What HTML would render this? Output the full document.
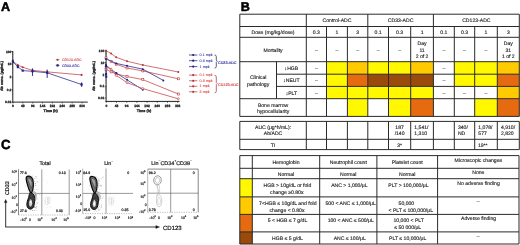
<!DOCTYPE html>
<html><head><meta charset="utf-8"><title>Figure</title>
<style>html,body{margin:0;padding:0;background:#fff;} svg{display:block;} text{font-family:"Liberation Sans", Arial, sans-serif;text-rendering:geometricPrecision;}</style>
</head><body>
<svg width="520" height="245" viewBox="0 0 520 245" font-family='"Liberation Sans", Arial, sans-serif'>
<rect x="0" y="0" width="520" height="245" fill="#fff"/>
<text x="0.90" y="10.90" font-size="12.6" text-anchor="start" fill="#000" font-weight="bold" stroke="#000" stroke-width="0.5" >A</text>
<text x="240.70" y="10.90" font-size="12.6" text-anchor="start" fill="#000" font-weight="bold" stroke="#000" stroke-width="0.5" >B</text>
<text x="0.90" y="148.80" font-size="13.2" text-anchor="start" fill="#000" font-weight="bold" stroke="#000" stroke-width="0.5" >C</text>
<rect x="326.50" y="61.70" width="20.90" height="12.50" fill="#FFF800"/>
<rect x="347.40" y="61.70" width="20.40" height="12.50" fill="#FFCA00"/>
<rect x="367.80" y="61.70" width="20.70" height="12.50" fill="#FFF800"/>
<rect x="388.50" y="61.70" width="22.20" height="12.50" fill="#FFF800"/>
<rect x="410.70" y="61.70" width="22.70" height="12.50" fill="#FFCA00"/>
<rect x="454.30" y="61.70" width="20.40" height="12.50" fill="#FFF800"/>
<rect x="474.70" y="61.70" width="22.60" height="12.50" fill="#FFF800"/>
<rect x="497.30" y="61.70" width="22.00" height="12.50" fill="#FFCA00"/>
<rect x="326.50" y="74.20" width="20.90" height="12.20" fill="#FFF800"/>
<rect x="347.40" y="74.20" width="20.40" height="12.20" fill="#E56A10"/>
<rect x="367.80" y="74.20" width="20.70" height="12.20" fill="#9A4A0A"/>
<rect x="388.50" y="74.20" width="22.20" height="12.20" fill="#9A4A0A"/>
<rect x="410.70" y="74.20" width="22.70" height="12.20" fill="#9A4A0A"/>
<rect x="454.30" y="74.20" width="20.40" height="12.20" fill="#FFF800"/>
<rect x="474.70" y="74.20" width="22.60" height="12.20" fill="#FFF800"/>
<rect x="497.30" y="74.20" width="22.00" height="12.20" fill="#E56A10"/>
<rect x="326.50" y="86.40" width="20.90" height="12.30" fill="#FFF800"/>
<rect x="347.40" y="86.40" width="20.40" height="12.30" fill="#FFF800"/>
<rect x="367.80" y="86.40" width="20.70" height="12.30" fill="#FFF800"/>
<rect x="388.50" y="86.40" width="22.20" height="12.30" fill="#FFF800"/>
<rect x="410.70" y="86.40" width="22.70" height="12.30" fill="#FFF800"/>
<rect x="497.30" y="86.40" width="22.00" height="12.30" fill="#FFCA00"/>
<rect x="347.40" y="98.70" width="20.40" height="17.70" fill="#FFF800"/>
<rect x="388.50" y="98.70" width="22.20" height="17.70" fill="#FFF800"/>
<rect x="410.70" y="98.70" width="22.70" height="17.70" fill="#E56A10"/>
<rect x="474.70" y="98.70" width="22.60" height="17.70" fill="#FFF800"/>
<rect x="497.30" y="98.70" width="22.00" height="17.70" fill="#E56A10"/>
<line x1="239.80" y1="14.20" x2="519.30" y2="14.20" stroke="#2a2a2a" stroke-width="1" />
<line x1="239.80" y1="26.50" x2="519.30" y2="26.50" stroke="#2a2a2a" stroke-width="1" />
<line x1="239.80" y1="37.30" x2="519.30" y2="37.30" stroke="#2a2a2a" stroke-width="1" />
<line x1="239.80" y1="61.70" x2="519.30" y2="61.70" stroke="#2a2a2a" stroke-width="1" />
<line x1="276.50" y1="74.20" x2="519.30" y2="74.20" stroke="#2a2a2a" stroke-width="1" />
<line x1="276.50" y1="86.40" x2="519.30" y2="86.40" stroke="#2a2a2a" stroke-width="1" />
<line x1="239.80" y1="98.70" x2="519.30" y2="98.70" stroke="#2a2a2a" stroke-width="1" />
<line x1="239.80" y1="116.40" x2="519.30" y2="116.40" stroke="#2a2a2a" stroke-width="1" />
<line x1="239.80" y1="14.20" x2="239.80" y2="116.40" stroke="#2a2a2a" stroke-width="1" />
<line x1="306.30" y1="14.20" x2="306.30" y2="116.40" stroke="#2a2a2a" stroke-width="1" />
<line x1="326.50" y1="26.50" x2="326.50" y2="116.40" stroke="#2a2a2a" stroke-width="1" />
<line x1="347.40" y1="26.50" x2="347.40" y2="116.40" stroke="#2a2a2a" stroke-width="1" />
<line x1="367.80" y1="14.20" x2="367.80" y2="116.40" stroke="#2a2a2a" stroke-width="1" />
<line x1="388.50" y1="26.50" x2="388.50" y2="116.40" stroke="#2a2a2a" stroke-width="1" />
<line x1="410.70" y1="26.50" x2="410.70" y2="116.40" stroke="#2a2a2a" stroke-width="1" />
<line x1="433.40" y1="14.20" x2="433.40" y2="116.40" stroke="#2a2a2a" stroke-width="1" />
<line x1="454.30" y1="26.50" x2="454.30" y2="116.40" stroke="#2a2a2a" stroke-width="1" />
<line x1="474.70" y1="26.50" x2="474.70" y2="116.40" stroke="#2a2a2a" stroke-width="1" />
<line x1="497.30" y1="26.50" x2="497.30" y2="116.40" stroke="#2a2a2a" stroke-width="1" />
<line x1="519.30" y1="14.20" x2="519.30" y2="116.40" stroke="#2a2a2a" stroke-width="1" />
<line x1="276.50" y1="61.70" x2="276.50" y2="98.70" stroke="#2a2a2a" stroke-width="1" />
<text x="337.05" y="21.74" font-size="5.1" text-anchor="middle" fill="#222" font-weight="normal" stroke="#222" stroke-width="0.13" >Control-ADC</text>
<text x="400.60" y="21.74" font-size="5.1" text-anchor="middle" fill="#222" font-weight="normal" stroke="#222" stroke-width="0.13" >CD33-ADC</text>
<text x="476.35" y="21.74" font-size="5.1" text-anchor="middle" fill="#222" font-weight="normal" stroke="#222" stroke-width="0.13" >CD123-ADC</text>
<text x="273.05" y="33.84" font-size="5.1" text-anchor="middle" fill="#222" font-weight="normal" stroke="#222" stroke-width="0.13" >Dose (mg/kg/dose)</text>
<text x="316.40" y="33.84" font-size="5.1" text-anchor="middle" fill="#222" font-weight="normal" stroke="#222" stroke-width="0.13" >0.3</text>
<text x="336.95" y="33.84" font-size="5.1" text-anchor="middle" fill="#222" font-weight="normal" stroke="#222" stroke-width="0.13" >1</text>
<text x="357.60" y="33.84" font-size="5.1" text-anchor="middle" fill="#222" font-weight="normal" stroke="#222" stroke-width="0.13" >3</text>
<text x="378.15" y="33.84" font-size="5.1" text-anchor="middle" fill="#222" font-weight="normal" stroke="#222" stroke-width="0.13" >0.1</text>
<text x="399.60" y="33.84" font-size="5.1" text-anchor="middle" fill="#222" font-weight="normal" stroke="#222" stroke-width="0.13" >0.3</text>
<text x="422.05" y="33.84" font-size="5.1" text-anchor="middle" fill="#222" font-weight="normal" stroke="#222" stroke-width="0.13" >1</text>
<text x="443.85" y="33.84" font-size="5.1" text-anchor="middle" fill="#222" font-weight="normal" stroke="#222" stroke-width="0.13" >0.1</text>
<text x="464.50" y="33.84" font-size="5.1" text-anchor="middle" fill="#222" font-weight="normal" stroke="#222" stroke-width="0.13" >0.3</text>
<text x="486.00" y="33.84" font-size="5.1" text-anchor="middle" fill="#222" font-weight="normal" stroke="#222" stroke-width="0.13" >1</text>
<text x="508.30" y="33.84" font-size="5.1" text-anchor="middle" fill="#222" font-weight="normal" stroke="#222" stroke-width="0.13" >3</text>
<text x="273.05" y="51.73" font-size="5.1" text-anchor="middle" fill="#222" font-weight="normal" stroke="#222" stroke-width="0.13" >Mortality</text>
<text x="316.40" y="51.57" font-size="5.2" text-anchor="middle" fill="#666" font-weight="normal" stroke="#666" stroke-width="0.13" >–</text>
<text x="336.95" y="51.57" font-size="5.2" text-anchor="middle" fill="#666" font-weight="normal" stroke="#666" stroke-width="0.13" >–</text>
<text x="357.60" y="51.57" font-size="5.2" text-anchor="middle" fill="#666" font-weight="normal" stroke="#666" stroke-width="0.13" >–</text>
<text x="378.15" y="51.57" font-size="5.2" text-anchor="middle" fill="#666" font-weight="normal" stroke="#666" stroke-width="0.13" >–</text>
<text x="399.60" y="51.57" font-size="5.2" text-anchor="middle" fill="#666" font-weight="normal" stroke="#666" stroke-width="0.13" >–</text>
<text x="443.85" y="51.57" font-size="5.2" text-anchor="middle" fill="#666" font-weight="normal" stroke="#666" stroke-width="0.13" >–</text>
<text x="464.50" y="51.57" font-size="5.2" text-anchor="middle" fill="#666" font-weight="normal" stroke="#666" stroke-width="0.13" >–</text>
<text x="486.00" y="51.57" font-size="5.2" text-anchor="middle" fill="#666" font-weight="normal" stroke="#666" stroke-width="0.13" >–</text>
<text x="422.05" y="45.23" font-size="5.1" text-anchor="middle" fill="#222" font-weight="normal" stroke="#222" stroke-width="0.13" >Day</text>
<text x="422.05" y="51.84" font-size="5.1" text-anchor="middle" fill="#222" font-weight="normal" stroke="#222" stroke-width="0.13" >11</text>
<text x="422.05" y="58.43" font-size="5.1" text-anchor="middle" fill="#222" font-weight="normal" stroke="#222" stroke-width="0.13" >2 of 2</text>
<text x="508.30" y="45.23" font-size="5.1" text-anchor="middle" fill="#222" font-weight="normal" stroke="#222" stroke-width="0.13" >Day</text>
<text x="508.30" y="51.84" font-size="5.1" text-anchor="middle" fill="#222" font-weight="normal" stroke="#222" stroke-width="0.13" >31</text>
<text x="508.30" y="58.43" font-size="5.1" text-anchor="middle" fill="#222" font-weight="normal" stroke="#222" stroke-width="0.13" >1 of 2</text>
<text x="258.15" y="79.33" font-size="5.1" text-anchor="middle" fill="#222" font-weight="normal" stroke="#222" stroke-width="0.13" >Clinical</text>
<text x="258.15" y="86.13" font-size="5.1" text-anchor="middle" fill="#222" font-weight="normal" stroke="#222" stroke-width="0.13" >pathology</text>
<text x="291.40" y="70.13" font-size="5.1" text-anchor="middle" fill="#222" font-weight="normal" stroke="#222" stroke-width="0.13" >↓HGB</text>
<text x="291.40" y="82.43" font-size="5.1" text-anchor="middle" fill="#222" font-weight="normal" stroke="#222" stroke-width="0.13" >↓NEUT</text>
<text x="291.40" y="94.53" font-size="5.1" text-anchor="middle" fill="#222" font-weight="normal" stroke="#222" stroke-width="0.13" >↓PLT</text>
<text x="316.40" y="69.92" font-size="5.2" text-anchor="middle" fill="#666" font-weight="normal" stroke="#666" stroke-width="0.13" >–</text>
<text x="443.85" y="69.92" font-size="5.2" text-anchor="middle" fill="#666" font-weight="normal" stroke="#666" stroke-width="0.13" >–</text>
<text x="316.40" y="82.27" font-size="5.2" text-anchor="middle" fill="#666" font-weight="normal" stroke="#666" stroke-width="0.13" >–</text>
<text x="443.85" y="82.27" font-size="5.2" text-anchor="middle" fill="#666" font-weight="normal" stroke="#666" stroke-width="0.13" >–</text>
<text x="316.40" y="94.52" font-size="5.2" text-anchor="middle" fill="#666" font-weight="normal" stroke="#666" stroke-width="0.13" >–</text>
<text x="443.85" y="94.52" font-size="5.2" text-anchor="middle" fill="#666" font-weight="normal" stroke="#666" stroke-width="0.13" >–</text>
<text x="464.50" y="94.52" font-size="5.2" text-anchor="middle" fill="#666" font-weight="normal" stroke="#666" stroke-width="0.13" >–</text>
<text x="486.00" y="94.52" font-size="5.2" text-anchor="middle" fill="#666" font-weight="normal" stroke="#666" stroke-width="0.13" >–</text>
<text x="273.05" y="106.53" font-size="5.1" text-anchor="middle" fill="#222" font-weight="normal" stroke="#222" stroke-width="0.13" >Bone marrow</text>
<text x="273.05" y="113.33" font-size="5.1" text-anchor="middle" fill="#222" font-weight="normal" stroke="#222" stroke-width="0.13" >hypocellularity</text>
<line x1="239.80" y1="121.40" x2="519.30" y2="121.40" stroke="#2a2a2a" stroke-width="1" />
<line x1="239.80" y1="139.30" x2="519.30" y2="139.30" stroke="#2a2a2a" stroke-width="1" />
<line x1="239.80" y1="149.60" x2="519.30" y2="149.60" stroke="#2a2a2a" stroke-width="1" />
<line x1="239.80" y1="121.40" x2="239.80" y2="149.60" stroke="#2a2a2a" stroke-width="1" />
<line x1="306.30" y1="121.40" x2="306.30" y2="149.60" stroke="#2a2a2a" stroke-width="1" />
<line x1="326.50" y1="121.40" x2="326.50" y2="149.60" stroke="#2a2a2a" stroke-width="1" />
<line x1="347.40" y1="121.40" x2="347.40" y2="149.60" stroke="#2a2a2a" stroke-width="1" />
<line x1="367.80" y1="121.40" x2="367.80" y2="149.60" stroke="#2a2a2a" stroke-width="1" />
<line x1="388.50" y1="121.40" x2="388.50" y2="149.60" stroke="#2a2a2a" stroke-width="1" />
<line x1="410.70" y1="121.40" x2="410.70" y2="149.60" stroke="#2a2a2a" stroke-width="1" />
<line x1="433.40" y1="121.40" x2="433.40" y2="149.60" stroke="#2a2a2a" stroke-width="1" />
<line x1="454.30" y1="121.40" x2="454.30" y2="149.60" stroke="#2a2a2a" stroke-width="1" />
<line x1="474.70" y1="121.40" x2="474.70" y2="149.60" stroke="#2a2a2a" stroke-width="1" />
<line x1="497.30" y1="121.40" x2="497.30" y2="149.60" stroke="#2a2a2a" stroke-width="1" />
<line x1="519.30" y1="121.40" x2="519.30" y2="149.60" stroke="#2a2a2a" stroke-width="1" />
<text x="273.05" y="129.44" font-size="5.1" text-anchor="middle" fill="#222" font-weight="normal" stroke="#222" stroke-width="0.13" >AUC (μg*h/mL):</text>
<text x="273.05" y="135.44" font-size="5.1" text-anchor="middle" fill="#222" font-weight="normal" stroke="#222" stroke-width="0.13" >Ab/ADC</text>
<text x="273.05" y="146.73" font-size="5.1" text-anchor="middle" fill="#222" font-weight="normal" stroke="#222" stroke-width="0.13" >TI</text>
<text x="399.60" y="129.34" font-size="5.1" text-anchor="middle" fill="#222" font-weight="normal" stroke="#222" stroke-width="0.13" >187</text>
<text x="399.60" y="135.33" font-size="5.1" text-anchor="middle" fill="#222" font-weight="normal" stroke="#222" stroke-width="0.13" >/140</text>
<text x="414.30" y="129.34" font-size="5.1" text-anchor="start" fill="#222" font-weight="normal" stroke="#222" stroke-width="0.13" >1,541/</text>
<text x="414.30" y="135.33" font-size="5.1" text-anchor="start" fill="#222" font-weight="normal" stroke="#222" stroke-width="0.13" >1,310</text>
<text x="457.90" y="129.34" font-size="5.1" text-anchor="start" fill="#222" font-weight="normal" stroke="#222" stroke-width="0.13" >340/</text>
<text x="457.90" y="135.33" font-size="5.1" text-anchor="start" fill="#222" font-weight="normal" stroke="#222" stroke-width="0.13" >ND</text>
<text x="478.30" y="129.34" font-size="5.1" text-anchor="start" fill="#222" font-weight="normal" stroke="#222" stroke-width="0.13" >1,078/</text>
<text x="478.30" y="135.33" font-size="5.1" text-anchor="start" fill="#222" font-weight="normal" stroke="#222" stroke-width="0.13" >577</text>
<text x="500.90" y="129.34" font-size="5.1" text-anchor="start" fill="#222" font-weight="normal" stroke="#222" stroke-width="0.13" >4,910/</text>
<text x="500.90" y="135.33" font-size="5.1" text-anchor="start" fill="#222" font-weight="normal" stroke="#222" stroke-width="0.13" >2,820</text>
<text x="399.60" y="146.53" font-size="5.1" text-anchor="middle" fill="#222" font-weight="normal" stroke="#222" stroke-width="0.13" >3*</text>
<text x="477.90" y="146.53" font-size="5.1" text-anchor="start" fill="#222" font-weight="normal" stroke="#222" stroke-width="0.13" >19**</text>
<rect x="239.80" y="178.70" width="12.50" height="18.20" fill="#FFF800"/>
<rect x="239.80" y="196.90" width="12.50" height="17.50" fill="#FFCA00"/>
<rect x="239.80" y="214.40" width="12.50" height="17.50" fill="#E56A10"/>
<rect x="239.80" y="231.90" width="12.50" height="12.10" fill="#9A4A0A"/>
<line x1="239.80" y1="155.60" x2="519.00" y2="155.60" stroke="#2a2a2a" stroke-width="1" />
<line x1="239.80" y1="168.30" x2="519.00" y2="168.30" stroke="#2a2a2a" stroke-width="1" />
<line x1="239.80" y1="178.70" x2="519.00" y2="178.70" stroke="#2a2a2a" stroke-width="1" />
<line x1="239.80" y1="196.90" x2="519.00" y2="196.90" stroke="#2a2a2a" stroke-width="1" />
<line x1="239.80" y1="214.40" x2="519.00" y2="214.40" stroke="#2a2a2a" stroke-width="1" />
<line x1="239.80" y1="231.90" x2="519.00" y2="231.90" stroke="#2a2a2a" stroke-width="1" />
<line x1="239.80" y1="244.00" x2="519.00" y2="244.00" stroke="#2a2a2a" stroke-width="1" />
<line x1="239.80" y1="155.60" x2="239.80" y2="244.00" stroke="#2a2a2a" stroke-width="1" />
<line x1="252.30" y1="155.60" x2="252.30" y2="244.00" stroke="#2a2a2a" stroke-width="1" />
<line x1="319.70" y1="155.60" x2="319.70" y2="244.00" stroke="#2a2a2a" stroke-width="1" />
<line x1="376.90" y1="155.60" x2="376.90" y2="244.00" stroke="#2a2a2a" stroke-width="1" />
<line x1="437.60" y1="155.60" x2="437.60" y2="244.00" stroke="#2a2a2a" stroke-width="1" />
<line x1="519.00" y1="155.60" x2="519.00" y2="244.00" stroke="#2a2a2a" stroke-width="1" />
<text x="286.00" y="164.03" font-size="5.1" text-anchor="middle" fill="#222" font-weight="normal" stroke="#222" stroke-width="0.13" >Hemoglobin</text>
<text x="348.30" y="164.03" font-size="5.1" text-anchor="middle" fill="#222" font-weight="normal" stroke="#222" stroke-width="0.13" >Neutrophil count</text>
<text x="407.25" y="164.03" font-size="5.1" text-anchor="middle" fill="#222" font-weight="normal" stroke="#222" stroke-width="0.13" >Platelet count</text>
<text x="478.30" y="162.03" font-size="5.1" text-anchor="middle" fill="#222" font-weight="normal" stroke="#222" stroke-width="0.13" >Microscopic changes</text>
<text x="286.00" y="175.94" font-size="5.1" text-anchor="middle" fill="#222" font-weight="normal" stroke="#222" stroke-width="0.13" >Normal</text>
<text x="348.30" y="175.94" font-size="5.1" text-anchor="middle" fill="#222" font-weight="normal" stroke="#222" stroke-width="0.13" >Normal</text>
<text x="407.25" y="175.94" font-size="5.1" text-anchor="middle" fill="#222" font-weight="normal" stroke="#222" stroke-width="0.13" >Normal</text>
<text x="478.30" y="173.83" font-size="5.1" text-anchor="middle" fill="#222" font-weight="normal" stroke="#222" stroke-width="0.13" >None</text>
<text x="287.40" y="186.53" font-size="5.1" text-anchor="middle" fill="#222" font-weight="normal" stroke="#222" stroke-width="0.13" >HGB &gt; 10g/dL or fold</text>
<text x="286.80" y="194.33" font-size="5.1" text-anchor="middle" fill="#222" font-weight="normal" stroke="#222" stroke-width="0.13" >change ≥0.80x</text>
<text x="349.40" y="186.53" font-size="5.1" text-anchor="middle" fill="#222" font-weight="normal" stroke="#222" stroke-width="0.13" >ANC &gt; 1,000/μL</text>
<text x="408.50" y="186.53" font-size="5.1" text-anchor="middle" fill="#222" font-weight="normal" stroke="#222" stroke-width="0.13" >PLT &gt; 100,000/μL</text>
<text x="478.50" y="184.94" font-size="5.1" text-anchor="middle" fill="#222" font-weight="normal" stroke="#222" stroke-width="0.13" >No adverse finding</text>
<text x="287.80" y="204.94" font-size="5.1" text-anchor="middle" fill="#222" font-weight="normal" stroke="#222" stroke-width="0.13" >7&lt;HGB ≤ 10g/dL and fold</text>
<text x="287.00" y="211.83" font-size="5.1" text-anchor="middle" fill="#222" font-weight="normal" stroke="#222" stroke-width="0.13" >change &lt; 0.80x</text>
<text x="350.70" y="204.94" font-size="5.1" text-anchor="middle" fill="#222" font-weight="normal" stroke="#222" stroke-width="0.13" >500 &lt; ANC ≤ 1,000/μL</text>
<text x="406.40" y="204.94" font-size="5.1" text-anchor="middle" fill="#222" font-weight="normal" stroke="#222" stroke-width="0.13" >50,000</text>
<text x="410.80" y="211.83" font-size="5.1" text-anchor="middle" fill="#222" font-weight="normal" stroke="#222" stroke-width="0.13" >&lt; PLT ≤ 100,000/μL</text>
<text x="478.30" y="202.77" font-size="5.2" text-anchor="middle" fill="#666" font-weight="normal" stroke="#666" stroke-width="0.13" >–</text>
<text x="287.50" y="222.44" font-size="5.1" text-anchor="middle" fill="#222" font-weight="normal" stroke="#222" stroke-width="0.13" >5 &lt; HGB ≤ 7 g/dL</text>
<text x="350.70" y="222.44" font-size="5.1" text-anchor="middle" fill="#222" font-weight="normal" stroke="#222" stroke-width="0.13" >100 &lt; ANC ≤ 500/μL</text>
<text x="408.70" y="222.44" font-size="5.1" text-anchor="middle" fill="#222" font-weight="normal" stroke="#222" stroke-width="0.13" >10,000 &lt; PLT</text>
<text x="407.70" y="228.73" font-size="5.1" text-anchor="middle" fill="#222" font-weight="normal" stroke="#222" stroke-width="0.13" >≤ 50 000/μL</text>
<text x="478.60" y="220.13" font-size="5.1" text-anchor="middle" fill="#222" font-weight="normal" stroke="#222" stroke-width="0.13" >Adverse finding</text>
<text x="287.50" y="240.03" font-size="5.1" text-anchor="middle" fill="#222" font-weight="normal" stroke="#222" stroke-width="0.13" >HGB ≤ 5 g/dL</text>
<text x="349.70" y="240.03" font-size="5.1" text-anchor="middle" fill="#222" font-weight="normal" stroke="#222" stroke-width="0.13" >ANC ≤ 100/μL</text>
<text x="407.70" y="240.03" font-size="5.1" text-anchor="middle" fill="#222" font-weight="normal" stroke="#222" stroke-width="0.13" >PLT ≤ 10,000/μL</text>
<text x="478.20" y="237.97" font-size="5.2" text-anchor="middle" fill="#666" font-weight="normal" stroke="#666" stroke-width="0.13" >–</text>
<line x1="12.80" y1="51.00" x2="12.80" y2="102.70" stroke="#1a1a1a" stroke-width="0.95" />
<line x1="12.40" y1="102.10" x2="87.80" y2="102.10" stroke="#1a1a1a" stroke-width="0.95" />
<line x1="11.40" y1="51.40" x2="12.80" y2="51.40" stroke="#1a1a1a" stroke-width="0.7" />
<text x="11.30" y="52.55" font-size="3.2" text-anchor="end" fill="#1a1a1a" font-weight="bold" stroke="#1a1a1a" stroke-width="0.28" >100</text>
<line x1="12.10" y1="60.26" x2="12.80" y2="60.26" stroke="#1a1a1a" stroke-width="0.35" />
<line x1="12.10" y1="58.03" x2="12.80" y2="58.03" stroke="#1a1a1a" stroke-width="0.35" />
<line x1="12.10" y1="56.45" x2="12.80" y2="56.45" stroke="#1a1a1a" stroke-width="0.35" />
<line x1="12.10" y1="55.22" x2="12.80" y2="55.22" stroke="#1a1a1a" stroke-width="0.35" />
<line x1="12.10" y1="54.21" x2="12.80" y2="54.21" stroke="#1a1a1a" stroke-width="0.35" />
<line x1="12.10" y1="53.36" x2="12.80" y2="53.36" stroke="#1a1a1a" stroke-width="0.35" />
<line x1="12.10" y1="52.63" x2="12.80" y2="52.63" stroke="#1a1a1a" stroke-width="0.35" />
<line x1="12.10" y1="51.98" x2="12.80" y2="51.98" stroke="#1a1a1a" stroke-width="0.35" />
<line x1="11.40" y1="64.08" x2="12.80" y2="64.08" stroke="#1a1a1a" stroke-width="0.7" />
<text x="11.30" y="65.23" font-size="3.2" text-anchor="end" fill="#1a1a1a" font-weight="bold" stroke="#1a1a1a" stroke-width="0.28" >10</text>
<line x1="12.10" y1="72.94" x2="12.80" y2="72.94" stroke="#1a1a1a" stroke-width="0.35" />
<line x1="12.10" y1="70.71" x2="12.80" y2="70.71" stroke="#1a1a1a" stroke-width="0.35" />
<line x1="12.10" y1="69.13" x2="12.80" y2="69.13" stroke="#1a1a1a" stroke-width="0.35" />
<line x1="12.10" y1="67.90" x2="12.80" y2="67.90" stroke="#1a1a1a" stroke-width="0.35" />
<line x1="12.10" y1="66.89" x2="12.80" y2="66.89" stroke="#1a1a1a" stroke-width="0.35" />
<line x1="12.10" y1="66.04" x2="12.80" y2="66.04" stroke="#1a1a1a" stroke-width="0.35" />
<line x1="12.10" y1="65.31" x2="12.80" y2="65.31" stroke="#1a1a1a" stroke-width="0.35" />
<line x1="12.10" y1="64.66" x2="12.80" y2="64.66" stroke="#1a1a1a" stroke-width="0.35" />
<line x1="11.40" y1="76.76" x2="12.80" y2="76.76" stroke="#1a1a1a" stroke-width="0.7" />
<text x="11.30" y="77.91" font-size="3.2" text-anchor="end" fill="#1a1a1a" font-weight="bold" stroke="#1a1a1a" stroke-width="0.28" >1</text>
<line x1="12.10" y1="85.62" x2="12.80" y2="85.62" stroke="#1a1a1a" stroke-width="0.35" />
<line x1="12.10" y1="83.39" x2="12.80" y2="83.39" stroke="#1a1a1a" stroke-width="0.35" />
<line x1="12.10" y1="81.81" x2="12.80" y2="81.81" stroke="#1a1a1a" stroke-width="0.35" />
<line x1="12.10" y1="80.58" x2="12.80" y2="80.58" stroke="#1a1a1a" stroke-width="0.35" />
<line x1="12.10" y1="79.57" x2="12.80" y2="79.57" stroke="#1a1a1a" stroke-width="0.35" />
<line x1="12.10" y1="78.72" x2="12.80" y2="78.72" stroke="#1a1a1a" stroke-width="0.35" />
<line x1="12.10" y1="77.99" x2="12.80" y2="77.99" stroke="#1a1a1a" stroke-width="0.35" />
<line x1="12.10" y1="77.34" x2="12.80" y2="77.34" stroke="#1a1a1a" stroke-width="0.35" />
<line x1="11.40" y1="89.44" x2="12.80" y2="89.44" stroke="#1a1a1a" stroke-width="0.7" />
<text x="11.30" y="90.59" font-size="3.2" text-anchor="end" fill="#1a1a1a" font-weight="bold" stroke="#1a1a1a" stroke-width="0.28" >0.1</text>
<line x1="12.10" y1="98.30" x2="12.80" y2="98.30" stroke="#1a1a1a" stroke-width="0.35" />
<line x1="12.10" y1="96.07" x2="12.80" y2="96.07" stroke="#1a1a1a" stroke-width="0.35" />
<line x1="12.10" y1="94.49" x2="12.80" y2="94.49" stroke="#1a1a1a" stroke-width="0.35" />
<line x1="12.10" y1="93.26" x2="12.80" y2="93.26" stroke="#1a1a1a" stroke-width="0.35" />
<line x1="12.10" y1="92.25" x2="12.80" y2="92.25" stroke="#1a1a1a" stroke-width="0.35" />
<line x1="12.10" y1="91.40" x2="12.80" y2="91.40" stroke="#1a1a1a" stroke-width="0.35" />
<line x1="12.10" y1="90.67" x2="12.80" y2="90.67" stroke="#1a1a1a" stroke-width="0.35" />
<line x1="12.10" y1="90.02" x2="12.80" y2="90.02" stroke="#1a1a1a" stroke-width="0.35" />
<line x1="11.40" y1="102.12" x2="12.80" y2="102.12" stroke="#1a1a1a" stroke-width="0.7" />
<text x="11.30" y="103.27" font-size="3.2" text-anchor="end" fill="#1a1a1a" font-weight="bold" stroke="#1a1a1a" stroke-width="0.28" >0.01</text>
<line x1="13.00" y1="102.10" x2="13.00" y2="103.40" stroke="#1a1a1a" stroke-width="0.7" />
<text x="13.00" y="107.20" font-size="3.3" text-anchor="middle" fill="#1a1a1a" font-weight="bold" stroke="#1a1a1a" stroke-width="0.28" >0</text>
<line x1="22.86" y1="102.10" x2="22.86" y2="103.40" stroke="#1a1a1a" stroke-width="0.7" />
<text x="22.86" y="107.20" font-size="3.3" text-anchor="middle" fill="#1a1a1a" font-weight="bold" stroke="#1a1a1a" stroke-width="0.28" >48</text>
<line x1="32.72" y1="102.10" x2="32.72" y2="103.40" stroke="#1a1a1a" stroke-width="0.7" />
<text x="32.72" y="107.20" font-size="3.3" text-anchor="middle" fill="#1a1a1a" font-weight="bold" stroke="#1a1a1a" stroke-width="0.28" >96</text>
<line x1="42.58" y1="102.10" x2="42.58" y2="103.40" stroke="#1a1a1a" stroke-width="0.7" />
<text x="42.58" y="107.20" font-size="3.3" text-anchor="middle" fill="#1a1a1a" font-weight="bold" stroke="#1a1a1a" stroke-width="0.28" >144</text>
<line x1="52.44" y1="102.10" x2="52.44" y2="103.40" stroke="#1a1a1a" stroke-width="0.7" />
<text x="52.44" y="107.20" font-size="3.3" text-anchor="middle" fill="#1a1a1a" font-weight="bold" stroke="#1a1a1a" stroke-width="0.28" >192</text>
<line x1="62.30" y1="102.10" x2="62.30" y2="103.40" stroke="#1a1a1a" stroke-width="0.7" />
<text x="62.30" y="107.20" font-size="3.3" text-anchor="middle" fill="#1a1a1a" font-weight="bold" stroke="#1a1a1a" stroke-width="0.28" >240</text>
<line x1="72.16" y1="102.10" x2="72.16" y2="103.40" stroke="#1a1a1a" stroke-width="0.7" />
<text x="72.16" y="107.20" font-size="3.3" text-anchor="middle" fill="#1a1a1a" font-weight="bold" stroke="#1a1a1a" stroke-width="0.28" >288</text>
<line x1="82.02" y1="102.10" x2="82.02" y2="103.40" stroke="#1a1a1a" stroke-width="0.7" />
<text x="82.02" y="107.20" font-size="3.3" text-anchor="middle" fill="#1a1a1a" font-weight="bold" stroke="#1a1a1a" stroke-width="0.28" >336</text>
<text x="50.60" y="111.90" font-size="3.7" text-anchor="middle" fill="#1a1a1a" font-weight="bold" stroke="#1a1a1a" stroke-width="0.28" >Time (h)</text>
<text x="0.00" y="0.00" font-size="3.7" text-anchor="middle" fill="#1a1a1a" font-weight="bold" stroke="#1a1a1a" stroke-width="0.28" transform="translate(3.4,76.0) rotate(-90)">Ab conc. (μg/mL)</text>
<path d="M12.9,61.3 L17.8,65.0 L22.7,67.3 L32.5,70.3 L47.2,71.9 L81.6,74.9" stroke="#CC6262" stroke-width="0.9" fill="none" />
<path d="M12.9,61.6 L17.8,66.8 L22.7,70.6 L32.5,71.3 L47.2,72.8 L81.6,84.5" stroke="#4646A2" stroke-width="0.9" fill="none" />
<circle cx="17.8" cy="65.0" r="1.05" fill="#B83438"/>
<circle cx="22.7" cy="67.3" r="1.05" fill="#B83438"/>
<circle cx="32.5" cy="70.3" r="1.05" fill="#B83438"/>
<circle cx="47.2" cy="71.9" r="1.05" fill="#B83438"/>
<circle cx="81.6" cy="74.9" r="1.05" fill="#B83438"/>
<rect x="11.8" y="60.5" width="2.2" height="2.2" fill="#202080"/>
<rect x="16.7" y="65.7" width="2.2" height="2.2" fill="#202080"/>
<rect x="21.599999999999998" y="69.5" width="2.2" height="2.2" fill="#202080"/>
<rect x="31.4" y="70.2" width="2.2" height="2.2" fill="#202080"/>
<rect x="46.1" y="71.7" width="2.2" height="2.2" fill="#202080"/>
<rect x="80.5" y="83.4" width="2.2" height="2.2" fill="#202080"/>
<line x1="32.50" y1="68.80" x2="32.50" y2="75.60" stroke="#202080" stroke-width="0.9" />
<line x1="31.90" y1="68.80" x2="33.10" y2="68.80" stroke="#202080" stroke-width="0.6" />
<line x1="31.90" y1="75.60" x2="33.10" y2="75.60" stroke="#202080" stroke-width="0.6" />
<line x1="47.20" y1="70.00" x2="47.20" y2="77.40" stroke="#202080" stroke-width="0.9" />
<line x1="46.60" y1="70.00" x2="47.80" y2="70.00" stroke="#202080" stroke-width="0.6" />
<line x1="46.60" y1="77.40" x2="47.80" y2="77.40" stroke="#202080" stroke-width="0.6" />
<line x1="81.60" y1="82.80" x2="81.60" y2="86.40" stroke="#202080" stroke-width="0.9" />
<line x1="81.00" y1="82.80" x2="82.20" y2="82.80" stroke="#202080" stroke-width="0.6" />
<line x1="81.00" y1="86.40" x2="82.20" y2="86.40" stroke="#202080" stroke-width="0.6" />
<line x1="12.90" y1="59.80" x2="12.90" y2="63.20" stroke="#202080" stroke-width="0.9" />
<line x1="12.30" y1="59.80" x2="13.50" y2="59.80" stroke="#202080" stroke-width="0.6" />
<line x1="12.30" y1="63.20" x2="13.50" y2="63.20" stroke="#202080" stroke-width="0.6" />
<line x1="17.80" y1="65.60" x2="17.80" y2="68.00" stroke="#202080" stroke-width="0.9" />
<line x1="17.20" y1="65.60" x2="18.40" y2="65.60" stroke="#202080" stroke-width="0.6" />
<line x1="17.20" y1="68.00" x2="18.40" y2="68.00" stroke="#202080" stroke-width="0.6" />
<line x1="55.80" y1="59.70" x2="59.40" y2="59.70" stroke="#CC6262" stroke-width="0.8" />
<circle cx="57.6" cy="59.7" r="1.05" fill="#B83438"/>
<text x="62.00" y="61.00" font-size="3.5" text-anchor="start" fill="#D84444" font-weight="normal" stroke="#D84444" stroke-width="0.1" >CD123-ADC</text>
<line x1="55.80" y1="65.40" x2="59.40" y2="65.40" stroke="#4646A2" stroke-width="0.8" />
<rect x="56.5" y="64.3" width="2.2" height="2.2" fill="#202080"/>
<text x="62.00" y="66.70" font-size="3.5" text-anchor="start" fill="#3434A4" font-weight="normal" stroke="#3434A4" stroke-width="0.1" >CD33-ADC</text>
<line x1="106.10" y1="49.80" x2="106.10" y2="101.90" stroke="#1a1a1a" stroke-width="0.95" />
<line x1="105.70" y1="101.40" x2="179.60" y2="101.40" stroke="#1a1a1a" stroke-width="0.95" />
<line x1="104.70" y1="50.80" x2="106.10" y2="50.80" stroke="#1a1a1a" stroke-width="0.7" />
<text x="104.20" y="51.95" font-size="3.2" text-anchor="end" fill="#1a1a1a" font-weight="bold" stroke="#1a1a1a" stroke-width="0.28" >100</text>
<line x1="105.40" y1="59.03" x2="106.10" y2="59.03" stroke="#1a1a1a" stroke-width="0.35" />
<line x1="105.40" y1="56.96" x2="106.10" y2="56.96" stroke="#1a1a1a" stroke-width="0.35" />
<line x1="105.40" y1="55.49" x2="106.10" y2="55.49" stroke="#1a1a1a" stroke-width="0.35" />
<line x1="105.40" y1="54.35" x2="106.10" y2="54.35" stroke="#1a1a1a" stroke-width="0.35" />
<line x1="105.40" y1="53.41" x2="106.10" y2="53.41" stroke="#1a1a1a" stroke-width="0.35" />
<line x1="105.40" y1="52.62" x2="106.10" y2="52.62" stroke="#1a1a1a" stroke-width="0.35" />
<line x1="105.40" y1="51.94" x2="106.10" y2="51.94" stroke="#1a1a1a" stroke-width="0.35" />
<line x1="105.40" y1="51.34" x2="106.10" y2="51.34" stroke="#1a1a1a" stroke-width="0.35" />
<line x1="104.70" y1="62.58" x2="106.10" y2="62.58" stroke="#1a1a1a" stroke-width="0.7" />
<text x="104.20" y="63.73" font-size="3.2" text-anchor="end" fill="#1a1a1a" font-weight="bold" stroke="#1a1a1a" stroke-width="0.28" >10</text>
<line x1="105.40" y1="70.81" x2="106.10" y2="70.81" stroke="#1a1a1a" stroke-width="0.35" />
<line x1="105.40" y1="68.74" x2="106.10" y2="68.74" stroke="#1a1a1a" stroke-width="0.35" />
<line x1="105.40" y1="67.27" x2="106.10" y2="67.27" stroke="#1a1a1a" stroke-width="0.35" />
<line x1="105.40" y1="66.13" x2="106.10" y2="66.13" stroke="#1a1a1a" stroke-width="0.35" />
<line x1="105.40" y1="65.19" x2="106.10" y2="65.19" stroke="#1a1a1a" stroke-width="0.35" />
<line x1="105.40" y1="64.40" x2="106.10" y2="64.40" stroke="#1a1a1a" stroke-width="0.35" />
<line x1="105.40" y1="63.72" x2="106.10" y2="63.72" stroke="#1a1a1a" stroke-width="0.35" />
<line x1="105.40" y1="63.12" x2="106.10" y2="63.12" stroke="#1a1a1a" stroke-width="0.35" />
<line x1="104.70" y1="74.36" x2="106.10" y2="74.36" stroke="#1a1a1a" stroke-width="0.7" />
<text x="104.20" y="75.51" font-size="3.2" text-anchor="end" fill="#1a1a1a" font-weight="bold" stroke="#1a1a1a" stroke-width="0.28" >1</text>
<line x1="105.40" y1="82.59" x2="106.10" y2="82.59" stroke="#1a1a1a" stroke-width="0.35" />
<line x1="105.40" y1="80.52" x2="106.10" y2="80.52" stroke="#1a1a1a" stroke-width="0.35" />
<line x1="105.40" y1="79.05" x2="106.10" y2="79.05" stroke="#1a1a1a" stroke-width="0.35" />
<line x1="105.40" y1="77.91" x2="106.10" y2="77.91" stroke="#1a1a1a" stroke-width="0.35" />
<line x1="105.40" y1="76.97" x2="106.10" y2="76.97" stroke="#1a1a1a" stroke-width="0.35" />
<line x1="105.40" y1="76.18" x2="106.10" y2="76.18" stroke="#1a1a1a" stroke-width="0.35" />
<line x1="105.40" y1="75.50" x2="106.10" y2="75.50" stroke="#1a1a1a" stroke-width="0.35" />
<line x1="105.40" y1="74.90" x2="106.10" y2="74.90" stroke="#1a1a1a" stroke-width="0.35" />
<line x1="104.70" y1="86.14" x2="106.10" y2="86.14" stroke="#1a1a1a" stroke-width="0.7" />
<text x="104.20" y="87.29" font-size="3.2" text-anchor="end" fill="#1a1a1a" font-weight="bold" stroke="#1a1a1a" stroke-width="0.28" >0.1</text>
<line x1="105.40" y1="94.37" x2="106.10" y2="94.37" stroke="#1a1a1a" stroke-width="0.35" />
<line x1="105.40" y1="92.30" x2="106.10" y2="92.30" stroke="#1a1a1a" stroke-width="0.35" />
<line x1="105.40" y1="90.83" x2="106.10" y2="90.83" stroke="#1a1a1a" stroke-width="0.35" />
<line x1="105.40" y1="89.69" x2="106.10" y2="89.69" stroke="#1a1a1a" stroke-width="0.35" />
<line x1="105.40" y1="88.75" x2="106.10" y2="88.75" stroke="#1a1a1a" stroke-width="0.35" />
<line x1="105.40" y1="87.96" x2="106.10" y2="87.96" stroke="#1a1a1a" stroke-width="0.35" />
<line x1="105.40" y1="87.28" x2="106.10" y2="87.28" stroke="#1a1a1a" stroke-width="0.35" />
<line x1="105.40" y1="86.68" x2="106.10" y2="86.68" stroke="#1a1a1a" stroke-width="0.35" />
<line x1="104.70" y1="97.92" x2="106.10" y2="97.92" stroke="#1a1a1a" stroke-width="0.7" />
<text x="104.20" y="99.07" font-size="3.2" text-anchor="end" fill="#1a1a1a" font-weight="bold" stroke="#1a1a1a" stroke-width="0.28" >0.01</text>
<line x1="106.30" y1="101.40" x2="106.30" y2="102.70" stroke="#1a1a1a" stroke-width="0.7" />
<text x="106.30" y="106.70" font-size="3.3" text-anchor="middle" fill="#1a1a1a" font-weight="bold" stroke="#1a1a1a" stroke-width="0.28" >0</text>
<line x1="116.50" y1="101.40" x2="116.50" y2="102.70" stroke="#1a1a1a" stroke-width="0.7" />
<text x="116.50" y="106.70" font-size="3.3" text-anchor="middle" fill="#1a1a1a" font-weight="bold" stroke="#1a1a1a" stroke-width="0.28" >48</text>
<line x1="126.70" y1="101.40" x2="126.70" y2="102.70" stroke="#1a1a1a" stroke-width="0.7" />
<text x="126.70" y="106.70" font-size="3.3" text-anchor="middle" fill="#1a1a1a" font-weight="bold" stroke="#1a1a1a" stroke-width="0.28" >96</text>
<line x1="136.90" y1="101.40" x2="136.90" y2="102.70" stroke="#1a1a1a" stroke-width="0.7" />
<text x="136.90" y="106.70" font-size="3.3" text-anchor="middle" fill="#1a1a1a" font-weight="bold" stroke="#1a1a1a" stroke-width="0.28" >144</text>
<line x1="147.10" y1="101.40" x2="147.10" y2="102.70" stroke="#1a1a1a" stroke-width="0.7" />
<text x="147.10" y="106.70" font-size="3.3" text-anchor="middle" fill="#1a1a1a" font-weight="bold" stroke="#1a1a1a" stroke-width="0.28" >192</text>
<line x1="157.30" y1="101.40" x2="157.30" y2="102.70" stroke="#1a1a1a" stroke-width="0.7" />
<text x="157.30" y="106.70" font-size="3.3" text-anchor="middle" fill="#1a1a1a" font-weight="bold" stroke="#1a1a1a" stroke-width="0.28" >240</text>
<line x1="167.50" y1="101.40" x2="167.50" y2="102.70" stroke="#1a1a1a" stroke-width="0.7" />
<text x="167.50" y="106.70" font-size="3.3" text-anchor="middle" fill="#1a1a1a" font-weight="bold" stroke="#1a1a1a" stroke-width="0.28" >288</text>
<line x1="177.70" y1="101.40" x2="177.70" y2="102.70" stroke="#1a1a1a" stroke-width="0.7" />
<text x="177.70" y="106.70" font-size="3.3" text-anchor="middle" fill="#1a1a1a" font-weight="bold" stroke="#1a1a1a" stroke-width="0.28" >336</text>
<text x="144.00" y="112.10" font-size="3.7" text-anchor="middle" fill="#1a1a1a" font-weight="bold" stroke="#1a1a1a" stroke-width="0.28" >Time (h)</text>
<line x1="106.30" y1="101.40" x2="106.30" y2="102.30" stroke="#1a1a1a" stroke-width="0.4" />
<line x1="108.85" y1="101.40" x2="108.85" y2="102.30" stroke="#1a1a1a" stroke-width="0.4" />
<line x1="111.40" y1="101.40" x2="111.40" y2="102.30" stroke="#1a1a1a" stroke-width="0.4" />
<line x1="113.95" y1="101.40" x2="113.95" y2="102.30" stroke="#1a1a1a" stroke-width="0.4" />
<line x1="116.50" y1="101.40" x2="116.50" y2="102.30" stroke="#1a1a1a" stroke-width="0.4" />
<line x1="119.05" y1="101.40" x2="119.05" y2="102.30" stroke="#1a1a1a" stroke-width="0.4" />
<line x1="121.60" y1="101.40" x2="121.60" y2="102.30" stroke="#1a1a1a" stroke-width="0.4" />
<line x1="124.15" y1="101.40" x2="124.15" y2="102.30" stroke="#1a1a1a" stroke-width="0.4" />
<line x1="126.70" y1="101.40" x2="126.70" y2="102.30" stroke="#1a1a1a" stroke-width="0.4" />
<line x1="129.25" y1="101.40" x2="129.25" y2="102.30" stroke="#1a1a1a" stroke-width="0.4" />
<line x1="131.80" y1="101.40" x2="131.80" y2="102.30" stroke="#1a1a1a" stroke-width="0.4" />
<line x1="134.35" y1="101.40" x2="134.35" y2="102.30" stroke="#1a1a1a" stroke-width="0.4" />
<line x1="136.90" y1="101.40" x2="136.90" y2="102.30" stroke="#1a1a1a" stroke-width="0.4" />
<line x1="139.45" y1="101.40" x2="139.45" y2="102.30" stroke="#1a1a1a" stroke-width="0.4" />
<line x1="142.00" y1="101.40" x2="142.00" y2="102.30" stroke="#1a1a1a" stroke-width="0.4" />
<line x1="144.55" y1="101.40" x2="144.55" y2="102.30" stroke="#1a1a1a" stroke-width="0.4" />
<line x1="147.10" y1="101.40" x2="147.10" y2="102.30" stroke="#1a1a1a" stroke-width="0.4" />
<line x1="149.65" y1="101.40" x2="149.65" y2="102.30" stroke="#1a1a1a" stroke-width="0.4" />
<line x1="152.20" y1="101.40" x2="152.20" y2="102.30" stroke="#1a1a1a" stroke-width="0.4" />
<line x1="154.75" y1="101.40" x2="154.75" y2="102.30" stroke="#1a1a1a" stroke-width="0.4" />
<line x1="157.30" y1="101.40" x2="157.30" y2="102.30" stroke="#1a1a1a" stroke-width="0.4" />
<line x1="159.85" y1="101.40" x2="159.85" y2="102.30" stroke="#1a1a1a" stroke-width="0.4" />
<line x1="162.40" y1="101.40" x2="162.40" y2="102.30" stroke="#1a1a1a" stroke-width="0.4" />
<line x1="164.95" y1="101.40" x2="164.95" y2="102.30" stroke="#1a1a1a" stroke-width="0.4" />
<line x1="167.50" y1="101.40" x2="167.50" y2="102.30" stroke="#1a1a1a" stroke-width="0.4" />
<line x1="170.05" y1="101.40" x2="170.05" y2="102.30" stroke="#1a1a1a" stroke-width="0.4" />
<line x1="172.60" y1="101.40" x2="172.60" y2="102.30" stroke="#1a1a1a" stroke-width="0.4" />
<line x1="175.15" y1="101.40" x2="175.15" y2="102.30" stroke="#1a1a1a" stroke-width="0.4" />
<line x1="177.70" y1="101.40" x2="177.70" y2="102.30" stroke="#1a1a1a" stroke-width="0.4" />
<text x="0.00" y="0.00" font-size="3.7" text-anchor="middle" fill="#1a1a1a" font-weight="bold" stroke="#1a1a1a" stroke-width="0.28" transform="translate(95.0,76.0) rotate(-90)">Ab conc. (μg/mL)</text>
<path d="M106,50.7 L111.1,53.5 L116.2,57.3 L127.0,61.2 L142.8,65.0 L178.3,72.0" stroke="#CC6262" stroke-width="0.9" fill="none" />
<circle cx="106" cy="50.7" r="1.0" fill="#B83438"/>
<circle cx="111.1" cy="53.5" r="1.0" fill="#B83438"/>
<circle cx="116.2" cy="57.3" r="1.0" fill="#B83438"/>
<circle cx="127.0" cy="61.2" r="1.0" fill="#B83438"/>
<circle cx="142.8" cy="65.0" r="1.0" fill="#B83438"/>
<circle cx="178.3" cy="72.0" r="1.0" fill="#B83438"/>
<path d="M106,58.0 L111.1,61.4 L116.2,64.2 L127.0,68.0 L142.8,70.9 L178.3,78.8" stroke="#CC6262" stroke-width="0.9" fill="none" />
<rect x="105.0" y="57.0" width="2.0" height="2.0" fill="#fff" stroke="#B83438" stroke-width="0.6"/>
<rect x="110.1" y="60.4" width="2.0" height="2.0" fill="#fff" stroke="#B83438" stroke-width="0.6"/>
<rect x="115.2" y="63.2" width="2.0" height="2.0" fill="#fff" stroke="#B83438" stroke-width="0.6"/>
<rect x="126.0" y="67.0" width="2.0" height="2.0" fill="#fff" stroke="#B83438" stroke-width="0.6"/>
<rect x="141.8" y="69.9" width="2.0" height="2.0" fill="#fff" stroke="#B83438" stroke-width="0.6"/>
<rect x="177.3" y="77.8" width="2.0" height="2.0" fill="#fff" stroke="#B83438" stroke-width="0.6"/>
<path d="M106,59.0 L116.2,63.4 L127.0,65.8 L142.8,69.2 L163.3,80.4" stroke="#4646A2" stroke-width="0.9" fill="none" />
<circle cx="106" cy="59.0" r="1.0" fill="#202080"/>
<circle cx="116.2" cy="63.4" r="1.0" fill="#202080"/>
<circle cx="127.0" cy="65.8" r="1.0" fill="#202080"/>
<circle cx="142.8" cy="69.2" r="1.0" fill="#202080"/>
<circle cx="163.3" cy="80.4" r="1.0" fill="#202080"/>
<path d="M106,69.2 L111.1,71.9 L116.2,73.8 L127.0,76.5 L142.8,79.6 L178.3,94.0" stroke="#CC6262" stroke-width="0.9" fill="none" />
<rect x="105.0" y="68.2" width="2.0" height="2.0" fill="#fff" stroke="#B83438" stroke-width="0.6"/>
<rect x="110.1" y="70.9" width="2.0" height="2.0" fill="#fff" stroke="#B83438" stroke-width="0.6"/>
<rect x="115.2" y="72.8" width="2.0" height="2.0" fill="#fff" stroke="#B83438" stroke-width="0.6"/>
<rect x="126.0" y="75.5" width="2.0" height="2.0" fill="#fff" stroke="#B83438" stroke-width="0.6"/>
<rect x="141.8" y="78.6" width="2.0" height="2.0" fill="#fff" stroke="#B83438" stroke-width="0.6"/>
<rect x="177.3" y="93.0" width="2.0" height="2.0" fill="#fff" stroke="#B83438" stroke-width="0.6"/>
<path d="M106,65.0 L111.1,69.6 L116.2,73.0 L127.0,79.8 L142.8,89.8" stroke="#4646A2" stroke-width="0.9" fill="none" />
<circle cx="106" cy="65.0" r="1.0" fill="#202080"/>
<circle cx="111.1" cy="69.6" r="1.0" fill="#202080"/>
<circle cx="116.2" cy="73.0" r="1.0" fill="#202080"/>
<circle cx="127.0" cy="79.8" r="1.0" fill="#202080"/>
<circle cx="142.8" cy="89.8" r="1.0" fill="#202080"/>
<path d="M106,66.8 L111.1,69.2 L116.2,75.4 L127.0,82.6 L142.8,88.6 L178.3,98.8" stroke="#CC6262" stroke-width="0.9" fill="none" />
<circle cx="106" cy="66.8" r="1.0" fill="#fff" stroke="#B83438" stroke-width="0.6"/>
<circle cx="111.1" cy="69.2" r="1.0" fill="#fff" stroke="#B83438" stroke-width="0.6"/>
<circle cx="116.2" cy="75.4" r="1.0" fill="#fff" stroke="#B83438" stroke-width="0.6"/>
<circle cx="127.0" cy="82.6" r="1.0" fill="#fff" stroke="#B83438" stroke-width="0.6"/>
<circle cx="142.8" cy="88.6" r="1.0" fill="#fff" stroke="#B83438" stroke-width="0.6"/>
<circle cx="178.3" cy="98.8" r="1.0" fill="#fff" stroke="#B83438" stroke-width="0.6"/>
<path d="M106,66.0 L106.1,74.1 L106.3,76.7" stroke="#4646A2" stroke-width="0.9" fill="none" />
<rect x="105.0" y="65.0" width="2.0" height="2.0" fill="#202080"/>
<rect x="105.1" y="73.1" width="2.0" height="2.0" fill="#202080"/>
<rect x="105.3" y="75.7" width="2.0" height="2.0" fill="#202080"/>
<line x1="189.00" y1="55.00" x2="197.40" y2="55.00" stroke="#4646A2" stroke-width="0.9" />
<circle cx="193.2" cy="55.0" r="1.1" fill="#202080"/>
<text x="199.60" y="56.15" font-size="3.65" text-anchor="start" fill="#3434A4" font-weight="normal" stroke="#3434A4" stroke-width="0.08" >0.1 mpk</text>
<line x1="189.00" y1="60.70" x2="197.40" y2="60.70" stroke="#4646A2" stroke-width="0.9" />
<circle cx="193.2" cy="60.7" r="1.1" fill="#202080"/>
<text x="199.60" y="61.85" font-size="3.65" text-anchor="start" fill="#3434A4" font-weight="normal" stroke="#3434A4" stroke-width="0.08" >0.3 mpk</text>
<line x1="189.00" y1="66.60" x2="197.40" y2="66.60" stroke="#4646A2" stroke-width="0.9" />
<circle cx="193.2" cy="66.6" r="1.1" fill="#202080"/>
<text x="199.60" y="67.75" font-size="3.65" text-anchor="start" fill="#3434A4" font-weight="normal" stroke="#3434A4" stroke-width="0.08" >1 mpk</text>
<path d="M214.6,55.0 Q216.3,55.0 216.3,56.6 L216.3,60.2 L217.3,61.2 L216.3,62.2 L216.3,66.6 Q216.3,68.0 214.6,68.0" stroke="#33336E" stroke-width="0.8" fill="none" />
<text x="218.00" y="63.50" font-size="3.7" text-anchor="start" fill="#3434A4" font-weight="normal" stroke="#3434A4" stroke-width="0.14" >CD33-ADC</text>
<line x1="189.00" y1="75.10" x2="197.40" y2="75.10" stroke="#CC6262" stroke-width="0.9" />
<circle cx="193.2" cy="75.1" r="1.1" fill="#B83438"/>
<text x="199.60" y="76.25" font-size="3.65" text-anchor="start" fill="#D84444" font-weight="normal" stroke="#D84444" stroke-width="0.08" >0.1 mpk</text>
<line x1="189.00" y1="80.80" x2="197.40" y2="80.80" stroke="#CC6262" stroke-width="0.9" />
<circle cx="193.2" cy="80.8" r="1.1" fill="#B83438"/>
<text x="199.60" y="81.95" font-size="3.65" text-anchor="start" fill="#D84444" font-weight="normal" stroke="#D84444" stroke-width="0.08" >0.3 mpk</text>
<line x1="189.00" y1="86.30" x2="197.40" y2="86.30" stroke="#CC6262" stroke-width="0.9" />
<circle cx="193.2" cy="86.3" r="1.1" fill="#B83438"/>
<text x="199.60" y="87.45" font-size="3.65" text-anchor="start" fill="#D84444" font-weight="normal" stroke="#D84444" stroke-width="0.08" >1 mpk</text>
<line x1="189.00" y1="91.80" x2="197.40" y2="91.80" stroke="#CC6262" stroke-width="0.9" />
<circle cx="193.2" cy="91.8" r="1.1" fill="#B83438"/>
<text x="199.60" y="92.95" font-size="3.65" text-anchor="start" fill="#D84444" font-weight="normal" stroke="#D84444" stroke-width="0.08" >3 mpk</text>
<path d="M214.6,75.3 Q216.3,75.3 216.3,76.9 L216.3,82.7 L217.3,83.7 L216.3,84.7 L216.3,91.3 Q216.3,92.8 214.6,92.8" stroke="#B04858" stroke-width="0.8" fill="none" />
<text x="218.00" y="85.60" font-size="3.7" text-anchor="start" fill="#D84444" font-weight="normal" stroke="#D84444" stroke-width="0.14" >CD123-ADC</text>
<line x1="18.50" y1="169.30" x2="18.50" y2="215.00" stroke="#555" stroke-width="0.7" />
<line x1="18.50" y1="215.00" x2="69.20" y2="215.00" stroke="#777" stroke-width="0.5" stroke-dasharray="1.2,1.2"/>
<line x1="41.80" y1="169.30" x2="41.80" y2="215.00" stroke="#555" stroke-width="0.6" />
<line x1="18.50" y1="193.40" x2="69.20" y2="193.40" stroke="#555" stroke-width="0.6" />
<line x1="69.20" y1="169.50" x2="69.20" y2="215.00" stroke="#555" stroke-width="0.6" />
<line x1="82.70" y1="168.50" x2="82.70" y2="213.60" stroke="#999" stroke-width="0.7" />
<line x1="82.70" y1="213.60" x2="133.00" y2="213.60" stroke="#777" stroke-width="0.5" stroke-dasharray="1.2,1.2"/>
<line x1="106.00" y1="168.50" x2="106.00" y2="213.60" stroke="#555" stroke-width="0.6" />
<line x1="82.70" y1="193.40" x2="133.00" y2="193.40" stroke="#555" stroke-width="0.6" />
<line x1="147.70" y1="169.10" x2="198.20" y2="169.10" stroke="#555" stroke-width="0.7" />
<line x1="198.20" y1="169.10" x2="198.20" y2="212.30" stroke="#555" stroke-width="0.7" />
<line x1="147.70" y1="169.10" x2="147.70" y2="212.30" stroke="#888" stroke-width="0.6" />
<line x1="147.70" y1="212.30" x2="198.20" y2="212.30" stroke="#777" stroke-width="0.5" stroke-dasharray="1.2,1.2"/>
<line x1="170.70" y1="169.10" x2="170.70" y2="212.30" stroke="#555" stroke-width="0.6" />
<line x1="147.70" y1="193.20" x2="198.20" y2="193.20" stroke="#555" stroke-width="0.6" />
<text x="45.00" y="164.80" font-size="5.25" text-anchor="middle" fill="#1a1a1a" font-weight="normal" stroke="#1a1a1a" stroke-width="0.2" >Total</text>
<text x="108.70" y="164.90" font-size="5.3" text-anchor="middle" fill="#1a1a1a" font-weight="normal" stroke="#1a1a1a" stroke-width="0.2" >Lin<tspan font-size="3.4" dy="-2.2">−</tspan></text>
<text x="171.60" y="164.60" font-size="5.4" text-anchor="middle" fill="#1a1a1a" font-weight="normal" stroke="#1a1a1a" stroke-width="0.2" >Lin<tspan font-size="3.4" dy="-2.2">−</tspan><tspan dy="2.2">CD34</tspan><tspan font-size="3.4" dy="-2.2">+</tspan><tspan dy="2.2">CD38</tspan><tspan font-size="3.4" dy="-2.2">−</tspan></text>
<text x="19.90" y="173.50" font-size="3.5" text-anchor="start" fill="#1a1a1a" font-weight="normal" stroke="#1a1a1a" stroke-width="0.22" >77.6</text>
<text x="65.60" y="173.50" font-size="3.5" text-anchor="end" fill="#1a1a1a" font-weight="normal" stroke="#1a1a1a" stroke-width="0.22" >0.13</text>
<text x="19.90" y="212.30" font-size="3.5" text-anchor="start" fill="#1a1a1a" font-weight="normal" stroke="#1a1a1a" stroke-width="0.22" >27.6</text>
<text x="62.80" y="212.30" font-size="3.5" text-anchor="end" fill="#1a1a1a" font-weight="normal" stroke="#1a1a1a" stroke-width="0.22" >0.03</text>
<text x="83.30" y="173.60" font-size="3.5" text-anchor="start" fill="#1a1a1a" font-weight="normal" stroke="#1a1a1a" stroke-width="0.22" >84.9</text>
<text x="129.30" y="173.80" font-size="3.5" text-anchor="end" fill="#1a1a1a" font-weight="normal" stroke="#1a1a1a" stroke-width="0.22" >0</text>
<text x="83.30" y="211.20" font-size="3.5" text-anchor="start" fill="#1a1a1a" font-weight="normal" stroke="#1a1a1a" stroke-width="0.22" >15.0</text>
<text x="128.40" y="210.90" font-size="3.5" text-anchor="end" fill="#1a1a1a" font-weight="normal" stroke="#1a1a1a" stroke-width="0.22" >0.35</text>
<text x="148.80" y="173.60" font-size="3.5" text-anchor="start" fill="#1a1a1a" font-weight="normal" stroke="#1a1a1a" stroke-width="0.22" >96.2</text>
<text x="194.60" y="173.80" font-size="3.5" text-anchor="end" fill="#1a1a1a" font-weight="normal" stroke="#1a1a1a" stroke-width="0.22" >0</text>
<text x="148.80" y="210.60" font-size="3.5" text-anchor="start" fill="#1a1a1a" font-weight="normal" stroke="#1a1a1a" stroke-width="0.22" >3.78</text>
<text x="194.60" y="210.60" font-size="3.5" text-anchor="end" fill="#1a1a1a" font-weight="normal" stroke="#1a1a1a" stroke-width="0.22" >0</text>
<text x="16.90" y="173.20" font-size="3.5" text-anchor="end" fill="#222" font-weight="normal" stroke="#222" stroke-width="0.2" >10<tspan font-size="2.5" dy="-1.6">5</tspan></text>
<text x="16.90" y="186.00" font-size="3.5" text-anchor="end" fill="#222" font-weight="normal" stroke="#222" stroke-width="0.2" >10<tspan font-size="2.5" dy="-1.6">4</tspan></text>
<text x="16.90" y="198.80" font-size="3.5" text-anchor="end" fill="#222" font-weight="normal" stroke="#222" stroke-width="0.2" >10<tspan font-size="2.5" dy="-1.6">3</tspan></text>
<text x="18.00" y="205.90" font-size="3.5" text-anchor="end" fill="#222" font-weight="normal" stroke="#222" stroke-width="0.2" >0</text>
<text x="16.90" y="212.60" font-size="3.5" text-anchor="end" fill="#222" font-weight="normal" stroke="#222" stroke-width="0.2" >-10<tspan font-size="2.5" dy="-1.6">3</tspan></text>
<text x="81.10" y="173.70" font-size="3.5" text-anchor="end" fill="#222" font-weight="normal" stroke="#222" stroke-width="0.2" >10<tspan font-size="2.5" dy="-1.6">5</tspan></text>
<text x="81.10" y="186.40" font-size="3.5" text-anchor="end" fill="#222" font-weight="normal" stroke="#222" stroke-width="0.2" >10<tspan font-size="2.5" dy="-1.6">4</tspan></text>
<text x="81.10" y="198.00" font-size="3.5" text-anchor="end" fill="#222" font-weight="normal" stroke="#222" stroke-width="0.2" >10<tspan font-size="2.5" dy="-1.6">3</tspan></text>
<text x="82.20" y="205.40" font-size="3.5" text-anchor="end" fill="#222" font-weight="normal" stroke="#222" stroke-width="0.2" >0</text>
<text x="81.10" y="212.20" font-size="3.5" text-anchor="end" fill="#222" font-weight="normal" stroke="#222" stroke-width="0.2" >-10<tspan font-size="2.5" dy="-1.6">3</tspan></text>
<text x="145.50" y="173.90" font-size="3.5" text-anchor="end" fill="#222" font-weight="normal" stroke="#222" stroke-width="0.2" >10<tspan font-size="2.5" dy="-1.6">5</tspan></text>
<text x="145.50" y="185.00" font-size="3.5" text-anchor="end" fill="#222" font-weight="normal" stroke="#222" stroke-width="0.2" >10<tspan font-size="2.5" dy="-1.6">4</tspan></text>
<text x="145.50" y="197.60" font-size="3.5" text-anchor="end" fill="#222" font-weight="normal" stroke="#222" stroke-width="0.2" >10<tspan font-size="2.5" dy="-1.6">3</tspan></text>
<text x="146.60" y="206.20" font-size="3.5" text-anchor="end" fill="#222" font-weight="normal" stroke="#222" stroke-width="0.2" >0</text>
<text x="145.50" y="212.80" font-size="3.5" text-anchor="end" fill="#222" font-weight="normal" stroke="#222" stroke-width="0.2" >-10<tspan font-size="2.5" dy="-1.6">3</tspan></text>
<text x="23.50" y="220.80" font-size="3.5" text-anchor="middle" fill="#222" font-weight="normal" stroke="#222" stroke-width="0.2" >-10<tspan font-size="2.5" dy="-1.6">3</tspan></text>
<text x="30.00" y="220.80" font-size="3.5" text-anchor="middle" fill="#222" font-weight="normal" stroke="#222" stroke-width="0.2" >0</text>
<text x="39.80" y="220.80" font-size="3.5" text-anchor="middle" fill="#222" font-weight="normal" stroke="#222" stroke-width="0.2" >10<tspan font-size="2.5" dy="-1.6">3</tspan></text>
<text x="54.00" y="220.80" font-size="3.5" text-anchor="middle" fill="#222" font-weight="normal" stroke="#222" stroke-width="0.2" >10<tspan font-size="2.5" dy="-1.6">4</tspan></text>
<text x="66.00" y="220.80" font-size="3.5" text-anchor="middle" fill="#222" font-weight="normal" stroke="#222" stroke-width="0.2" >10<tspan font-size="2.5" dy="-1.6">5</tspan></text>
<text x="88.00" y="219.20" font-size="3.5" text-anchor="middle" fill="#222" font-weight="normal" stroke="#222" stroke-width="0.2" >-10<tspan font-size="2.5" dy="-1.6">3</tspan></text>
<text x="94.50" y="219.20" font-size="3.5" text-anchor="middle" fill="#222" font-weight="normal" stroke="#222" stroke-width="0.2" >0</text>
<text x="104.50" y="219.20" font-size="3.5" text-anchor="middle" fill="#222" font-weight="normal" stroke="#222" stroke-width="0.2" >10<tspan font-size="2.5" dy="-1.6">3</tspan></text>
<text x="117.50" y="219.20" font-size="3.5" text-anchor="middle" fill="#222" font-weight="normal" stroke="#222" stroke-width="0.2" >10<tspan font-size="2.5" dy="-1.6">4</tspan></text>
<text x="130.50" y="219.20" font-size="3.5" text-anchor="middle" fill="#222" font-weight="normal" stroke="#222" stroke-width="0.2" >10<tspan font-size="2.5" dy="-1.6">5</tspan></text>
<text x="152.50" y="218.60" font-size="3.5" text-anchor="middle" fill="#222" font-weight="normal" stroke="#222" stroke-width="0.2" >-10<tspan font-size="2.5" dy="-1.6">3</tspan></text>
<text x="159.00" y="218.60" font-size="3.5" text-anchor="middle" fill="#222" font-weight="normal" stroke="#222" stroke-width="0.2" >0</text>
<text x="169.80" y="218.60" font-size="3.5" text-anchor="middle" fill="#222" font-weight="normal" stroke="#222" stroke-width="0.2" >10<tspan font-size="2.5" dy="-1.6">3</tspan></text>
<text x="183.60" y="218.60" font-size="3.5" text-anchor="middle" fill="#222" font-weight="normal" stroke="#222" stroke-width="0.2" >10<tspan font-size="2.5" dy="-1.6">4</tspan></text>
<text x="195.80" y="218.60" font-size="3.5" text-anchor="middle" fill="#222" font-weight="normal" stroke="#222" stroke-width="0.2" >10<tspan font-size="2.5" dy="-1.6">5</tspan></text>
<line x1="5.70" y1="201.50" x2="5.70" y2="227.00" stroke="#111" stroke-width="0.85" />
<path d="M5.7,199.4 L4.3,202.6 L7.1,202.6 Z" stroke="#111" stroke-width="0.3" fill="#111" />
<line x1="5.30" y1="227.00" x2="156.50" y2="227.00" stroke="#111" stroke-width="0.85" />
<path d="M159.6,227 L155.8,225.6 L155.8,228.4 Z" stroke="#111" stroke-width="0.3" fill="#111" />
<text x="163.00" y="229.90" font-size="6.0" text-anchor="start" fill="#111" font-weight="normal" stroke="#111" stroke-width="0.2" >CD123</text>
<text x="0.00" y="0.00" font-size="5.4" text-anchor="middle" fill="#111" font-weight="normal" stroke="#111" stroke-width="0.2" transform="translate(8.9,188.2) rotate(-90)">CD33</text>
<path d="M 29.60,189.60 C 31.60,188.80 35.60,190.60 36.80,194.40 C 37.40,197.80 36.20,201.20 34.20,202.00 C 32.40,202.40 30.40,199.40 29.80,195.40 C 29.40,193.00 29.20,190.60 29.60,189.60 Z" stroke="none" stroke-width="0" fill="#c4c4c4" />
<path d="M 26.50,176.80 C 27.60,175.60 30.20,175.90 31.70,177.60 C 33.00,179.20 33.50,182.40 33.40,185.40 C 33.30,188.40 32.50,191.20 31.30,193.30 C 30.10,192.00 29.10,190.20 28.40,187.80 C 27.60,185.20 26.70,182.40 26.30,179.80 C 26.10,178.60 26.10,177.40 26.50,176.80 Z" stroke="#050505" stroke-width="1.2" fill="#6e6e6e" />
<path d="M 27.70,178.40 C 28.90,177.70 30.60,178.60 31.50,180.40 C 32.30,182.40 32.30,185.60 31.70,188.20 C 30.80,186.80 29.80,184.80 29.00,182.60 C 28.30,181.00 27.60,179.40 27.70,178.40 Z" stroke="#333" stroke-width="0.5" fill="#a6a6a6" />
<path d="M 30.20,192.40 C 32.20,192.60 34.20,194.40 34.60,197.20 C 35.00,200.20 34.40,203.20 34.00,205.40 C 33.40,208.00 32.00,209.00 30.40,209.00 C 28.60,209.00 27.00,207.60 26.90,205.00 C 26.80,202.20 27.80,199.80 28.60,197.60 C 29.20,195.60 29.20,193.40 30.20,192.40 Z" stroke="#050505" stroke-width="1.0" fill="#3a3a3a" />
<path d="M 30.60,198.80 C 32.00,199.20 32.80,201.40 32.70,203.60 C 32.60,205.80 31.60,207.00 30.60,207.00 C 29.40,207.00 28.60,205.80 28.60,203.80 C 28.60,201.60 29.30,199.20 30.60,198.80 Z" stroke="#111" stroke-width="0.7" fill="#d8d8d8" />
<path d="M 30.60,200.80 C 31.20,201.00 31.50,202.20 31.50,203.40 C 31.50,204.60 31.10,205.20 30.60,205.20 C 30.00,205.20 29.70,204.60 29.70,203.40 C 29.70,202.20 30.00,201.00 30.60,200.80 Z" stroke="none" stroke-width="0" fill="#fbfbfb" />
<path d="M 93.30,190.00 C 95.30,189.20 99.30,191.00 100.50,194.80 C 101.10,198.20 99.90,201.60 97.90,202.40 C 96.10,202.80 94.10,199.80 93.50,195.80 C 93.10,193.40 92.90,191.00 93.30,190.00 Z" stroke="none" stroke-width="0" fill="#c4c4c4" />
<path d="M 90.20,177.20 C 91.30,176.00 93.90,176.30 95.40,178.00 C 96.70,179.60 97.20,182.80 97.10,185.80 C 97.00,188.80 96.20,191.60 95.00,193.70 C 93.80,192.40 92.80,190.60 92.10,188.20 C 91.30,185.60 90.40,182.80 90.00,180.20 C 89.80,179.00 89.80,177.80 90.20,177.20 Z" stroke="#050505" stroke-width="1.2" fill="#6e6e6e" />
<path d="M 91.40,178.80 C 92.60,178.10 94.30,179.00 95.20,180.80 C 96.00,182.80 96.00,186.00 95.40,188.60 C 94.50,187.20 93.50,185.20 92.70,183.00 C 92.00,181.40 91.30,179.80 91.40,178.80 Z" stroke="#333" stroke-width="0.5" fill="#a6a6a6" />
<path d="M 93.90,192.80 C 95.90,193.00 97.90,194.80 98.30,197.60 C 98.70,200.60 98.10,203.60 97.70,205.80 C 97.10,208.40 95.70,209.40 94.10,209.40 C 92.30,209.40 90.70,208.00 90.60,205.40 C 90.50,202.60 91.50,200.20 92.30,198.00 C 92.90,196.00 92.90,193.80 93.90,192.80 Z" stroke="#050505" stroke-width="1.0" fill="#3a3a3a" />
<path d="M 94.30,199.20 C 95.70,199.60 96.50,201.80 96.40,204.00 C 96.30,206.20 95.30,207.40 94.30,207.40 C 93.10,207.40 92.30,206.20 92.30,204.20 C 92.30,202.00 93.00,199.60 94.30,199.20 Z" stroke="#111" stroke-width="0.7" fill="#d8d8d8" />
<path d="M 94.30,201.20 C 94.90,201.40 95.20,202.60 95.20,203.80 C 95.20,205.00 94.80,205.60 94.30,205.60 C 93.70,205.60 93.40,205.00 93.40,203.80 C 93.40,202.60 93.70,201.40 94.30,201.20 Z" stroke="none" stroke-width="0" fill="#fbfbfb" />
<circle cx="32.28" cy="198.78" r="0.4" fill="#6a6a6a" fill-opacity="0.6"/>
<circle cx="34.43" cy="178.54" r="0.4" fill="#6a6a6a" fill-opacity="0.6"/>
<circle cx="30.40" cy="178.03" r="0.4" fill="#6a6a6a" fill-opacity="0.6"/>
<circle cx="32.40" cy="193.76" r="0.4" fill="#6a6a6a" fill-opacity="0.6"/>
<circle cx="35.90" cy="178.44" r="0.4" fill="#6a6a6a" fill-opacity="0.6"/>
<circle cx="33.70" cy="179.17" r="0.4" fill="#6a6a6a" fill-opacity="0.6"/>
<circle cx="28.34" cy="180.33" r="0.4" fill="#6a6a6a" fill-opacity="0.6"/>
<circle cx="35.39" cy="183.81" r="0.4" fill="#6a6a6a" fill-opacity="0.6"/>
<circle cx="28.26" cy="196.20" r="0.4" fill="#6a6a6a" fill-opacity="0.6"/>
<circle cx="28.12" cy="189.88" r="0.4" fill="#6a6a6a" fill-opacity="0.6"/>
<circle cx="33.86" cy="206.05" r="0.4" fill="#6a6a6a" fill-opacity="0.6"/>
<circle cx="32.87" cy="186.14" r="0.4" fill="#6a6a6a" fill-opacity="0.6"/>
<circle cx="33.86" cy="186.80" r="0.4" fill="#6a6a6a" fill-opacity="0.6"/>
<circle cx="34.10" cy="204.56" r="0.4" fill="#6a6a6a" fill-opacity="0.6"/>
<circle cx="34.56" cy="198.36" r="0.4" fill="#6a6a6a" fill-opacity="0.6"/>
<circle cx="36.35" cy="189.03" r="0.4" fill="#6a6a6a" fill-opacity="0.6"/>
<circle cx="32.04" cy="178.09" r="0.4" fill="#6a6a6a" fill-opacity="0.6"/>
<circle cx="32.70" cy="183.21" r="0.4" fill="#6a6a6a" fill-opacity="0.6"/>
<circle cx="31.75" cy="187.00" r="0.4" fill="#6a6a6a" fill-opacity="0.6"/>
<circle cx="30.32" cy="196.49" r="0.4" fill="#6a6a6a" fill-opacity="0.6"/>
<circle cx="30.74" cy="203.80" r="0.4" fill="#6a6a6a" fill-opacity="0.6"/>
<circle cx="33.69" cy="200.46" r="0.4" fill="#6a6a6a" fill-opacity="0.6"/>
<circle cx="33.14" cy="194.38" r="0.4" fill="#6a6a6a" fill-opacity="0.6"/>
<circle cx="36.66" cy="206.63" r="0.4" fill="#6a6a6a" fill-opacity="0.6"/>
<circle cx="32.70" cy="210.31" r="0.4" fill="#6a6a6a" fill-opacity="0.6"/>
<circle cx="30.71" cy="180.13" r="0.4" fill="#6a6a6a" fill-opacity="0.6"/>
<circle cx="28.90" cy="181.32" r="0.4" fill="#6a6a6a" fill-opacity="0.6"/>
<circle cx="35.32" cy="193.11" r="0.4" fill="#6a6a6a" fill-opacity="0.6"/>
<circle cx="37.03" cy="202.76" r="0.4" fill="#6a6a6a" fill-opacity="0.6"/>
<circle cx="34.01" cy="196.06" r="0.4" fill="#6a6a6a" fill-opacity="0.6"/>
<circle cx="34.72" cy="200.34" r="0.4" fill="#6a6a6a" fill-opacity="0.6"/>
<circle cx="31.29" cy="196.80" r="0.4" fill="#6a6a6a" fill-opacity="0.6"/>
<circle cx="30.29" cy="205.40" r="0.4" fill="#6a6a6a" fill-opacity="0.6"/>
<circle cx="31.51" cy="209.06" r="0.4" fill="#6a6a6a" fill-opacity="0.6"/>
<circle cx="28.92" cy="178.12" r="0.4" fill="#6a6a6a" fill-opacity="0.6"/>
<circle cx="33.67" cy="200.55" r="0.4" fill="#6a6a6a" fill-opacity="0.6"/>
<circle cx="27.68" cy="204.77" r="0.4" fill="#6a6a6a" fill-opacity="0.6"/>
<circle cx="25.95" cy="185.96" r="0.4" fill="#6a6a6a" fill-opacity="0.6"/>
<circle cx="29.86" cy="176.79" r="0.4" fill="#6a6a6a" fill-opacity="0.6"/>
<circle cx="35.74" cy="192.16" r="0.4" fill="#6a6a6a" fill-opacity="0.6"/>
<circle cx="33.69" cy="178.06" r="0.4" fill="#6a6a6a" fill-opacity="0.6"/>
<circle cx="34.22" cy="202.89" r="0.4" fill="#6a6a6a" fill-opacity="0.6"/>
<circle cx="34.45" cy="189.68" r="0.4" fill="#6a6a6a" fill-opacity="0.6"/>
<circle cx="34.53" cy="206.50" r="0.4" fill="#6a6a6a" fill-opacity="0.6"/>
<circle cx="35.67" cy="195.23" r="0.4" fill="#6a6a6a" fill-opacity="0.6"/>
<circle cx="34.48" cy="206.92" r="0.4" fill="#6a6a6a" fill-opacity="0.6"/>
<circle cx="35.36" cy="185.74" r="0.4" fill="#6a6a6a" fill-opacity="0.6"/>
<circle cx="27.93" cy="190.54" r="0.4" fill="#6a6a6a" fill-opacity="0.6"/>
<circle cx="29.33" cy="209.52" r="0.4" fill="#6a6a6a" fill-opacity="0.6"/>
<circle cx="37.51" cy="181.28" r="0.4" fill="#6a6a6a" fill-opacity="0.6"/>
<circle cx="33.91" cy="184.17" r="0.4" fill="#6a6a6a" fill-opacity="0.6"/>
<circle cx="34.82" cy="192.97" r="0.4" fill="#6a6a6a" fill-opacity="0.6"/>
<circle cx="31.15" cy="176.14" r="0.4" fill="#6a6a6a" fill-opacity="0.6"/>
<circle cx="31.84" cy="190.66" r="0.4" fill="#6a6a6a" fill-opacity="0.6"/>
<circle cx="30.53" cy="209.36" r="0.4" fill="#6a6a6a" fill-opacity="0.6"/>
<circle cx="35.65" cy="200.17" r="0.4" fill="#6a6a6a" fill-opacity="0.6"/>
<circle cx="29.14" cy="199.67" r="0.4" fill="#6a6a6a" fill-opacity="0.6"/>
<circle cx="32.62" cy="177.89" r="0.4" fill="#6a6a6a" fill-opacity="0.6"/>
<circle cx="36.93" cy="206.61" r="0.4" fill="#6a6a6a" fill-opacity="0.6"/>
<circle cx="30.12" cy="203.93" r="0.4" fill="#6a6a6a" fill-opacity="0.6"/>
<circle cx="30.80" cy="179.62" r="0.4" fill="#6a6a6a" fill-opacity="0.6"/>
<circle cx="34.77" cy="198.20" r="0.4" fill="#6a6a6a" fill-opacity="0.6"/>
<circle cx="33.97" cy="183.31" r="0.4" fill="#6a6a6a" fill-opacity="0.6"/>
<circle cx="33.40" cy="181.68" r="0.4" fill="#6a6a6a" fill-opacity="0.6"/>
<circle cx="32.51" cy="176.01" r="0.4" fill="#6a6a6a" fill-opacity="0.6"/>
<circle cx="33.78" cy="181.29" r="0.4" fill="#6a6a6a" fill-opacity="0.6"/>
<circle cx="35.14" cy="176.89" r="0.4" fill="#6a6a6a" fill-opacity="0.6"/>
<circle cx="34.58" cy="206.60" r="0.4" fill="#6a6a6a" fill-opacity="0.6"/>
<circle cx="31.80" cy="184.83" r="0.4" fill="#6a6a6a" fill-opacity="0.6"/>
<circle cx="31.96" cy="188.16" r="0.4" fill="#6a6a6a" fill-opacity="0.6"/>
<circle cx="32.06" cy="205.71" r="0.4" fill="#6a6a6a" fill-opacity="0.6"/>
<circle cx="34.08" cy="210.76" r="0.4" fill="#6a6a6a" fill-opacity="0.6"/>
<circle cx="29.85" cy="179.01" r="0.4" fill="#6a6a6a" fill-opacity="0.6"/>
<circle cx="33.68" cy="179.58" r="0.4" fill="#6a6a6a" fill-opacity="0.6"/>
<circle cx="31.79" cy="205.01" r="0.4" fill="#6a6a6a" fill-opacity="0.6"/>
<circle cx="34.83" cy="181.65" r="0.4" fill="#6a6a6a" fill-opacity="0.6"/>
<circle cx="39.80" cy="194.49" r="0.4" fill="#6a6a6a" fill-opacity="0.6"/>
<circle cx="33.99" cy="181.13" r="0.4" fill="#6a6a6a" fill-opacity="0.6"/>
<circle cx="32.37" cy="194.48" r="0.4" fill="#6a6a6a" fill-opacity="0.6"/>
<circle cx="32.82" cy="210.25" r="0.4" fill="#6a6a6a" fill-opacity="0.6"/>
<circle cx="35.82" cy="185.14" r="0.4" fill="#6a6a6a" fill-opacity="0.6"/>
<circle cx="29.73" cy="188.83" r="0.4" fill="#6a6a6a" fill-opacity="0.6"/>
<circle cx="35.40" cy="194.64" r="0.4" fill="#6a6a6a" fill-opacity="0.6"/>
<circle cx="37.17" cy="203.27" r="0.4" fill="#6a6a6a" fill-opacity="0.6"/>
<circle cx="32.05" cy="204.40" r="0.4" fill="#6a6a6a" fill-opacity="0.6"/>
<circle cx="34.75" cy="210.47" r="0.4" fill="#6a6a6a" fill-opacity="0.6"/>
<circle cx="36.05" cy="204.64" r="0.4" fill="#6a6a6a" fill-opacity="0.6"/>
<circle cx="28.95" cy="201.90" r="0.4" fill="#6a6a6a" fill-opacity="0.6"/>
<circle cx="33.49" cy="188.44" r="0.4" fill="#6a6a6a" fill-opacity="0.6"/>
<circle cx="36.35" cy="177.01" r="0.4" fill="#6a6a6a" fill-opacity="0.6"/>
<circle cx="35.23" cy="185.07" r="0.4" fill="#6a6a6a" fill-opacity="0.6"/>
<circle cx="33.40" cy="200.24" r="0.4" fill="#6a6a6a" fill-opacity="0.6"/>
<circle cx="35.94" cy="208.80" r="0.4" fill="#6a6a6a" fill-opacity="0.6"/>
<circle cx="32.18" cy="210.58" r="0.4" fill="#6a6a6a" fill-opacity="0.6"/>
<circle cx="35.56" cy="183.72" r="0.4" fill="#6a6a6a" fill-opacity="0.6"/>
<circle cx="32.26" cy="183.94" r="0.4" fill="#6a6a6a" fill-opacity="0.6"/>
<circle cx="33.62" cy="197.84" r="0.4" fill="#6a6a6a" fill-opacity="0.6"/>
<circle cx="34.79" cy="207.51" r="0.4" fill="#6a6a6a" fill-opacity="0.6"/>
<circle cx="34.72" cy="198.85" r="0.4" fill="#6a6a6a" fill-opacity="0.6"/>
<circle cx="30.30" cy="203.99" r="0.4" fill="#6a6a6a" fill-opacity="0.6"/>
<circle cx="36.55" cy="207.84" r="0.4" fill="#6a6a6a" fill-opacity="0.6"/>
<circle cx="35.09" cy="203.38" r="0.4" fill="#6a6a6a" fill-opacity="0.6"/>
<circle cx="33.00" cy="182.25" r="0.4" fill="#6a6a6a" fill-opacity="0.6"/>
<circle cx="29.81" cy="203.62" r="0.4" fill="#6a6a6a" fill-opacity="0.6"/>
<circle cx="30.51" cy="210.01" r="0.4" fill="#6a6a6a" fill-opacity="0.6"/>
<circle cx="37.37" cy="189.85" r="0.4" fill="#6a6a6a" fill-opacity="0.6"/>
<circle cx="27.48" cy="201.37" r="0.4" fill="#6a6a6a" fill-opacity="0.6"/>
<circle cx="36.94" cy="181.95" r="0.4" fill="#6a6a6a" fill-opacity="0.6"/>
<circle cx="34.12" cy="207.67" r="0.4" fill="#6a6a6a" fill-opacity="0.6"/>
<circle cx="34.15" cy="204.23" r="0.4" fill="#6a6a6a" fill-opacity="0.6"/>
<circle cx="36.18" cy="210.31" r="0.4" fill="#6a6a6a" fill-opacity="0.6"/>
<circle cx="37.16" cy="199.00" r="0.4" fill="#6a6a6a" fill-opacity="0.6"/>
<circle cx="30.92" cy="180.58" r="0.4" fill="#6a6a6a" fill-opacity="0.6"/>
<circle cx="35.85" cy="176.50" r="0.4" fill="#6a6a6a" fill-opacity="0.6"/>
<circle cx="36.99" cy="194.43" r="0.4" fill="#6a6a6a" fill-opacity="0.6"/>
<circle cx="32.26" cy="208.68" r="0.4" fill="#6a6a6a" fill-opacity="0.6"/>
<circle cx="27.81" cy="204.92" r="0.4" fill="#6a6a6a" fill-opacity="0.6"/>
<circle cx="35.29" cy="183.39" r="0.4" fill="#6a6a6a" fill-opacity="0.6"/>
<circle cx="32.97" cy="184.42" r="0.4" fill="#6a6a6a" fill-opacity="0.6"/>
<circle cx="35.33" cy="196.53" r="0.4" fill="#6a6a6a" fill-opacity="0.6"/>
<circle cx="32.83" cy="180.59" r="0.4" fill="#6a6a6a" fill-opacity="0.6"/>
<circle cx="35.91" cy="207.85" r="0.4" fill="#6a6a6a" fill-opacity="0.6"/>
<circle cx="31.12" cy="196.42" r="0.4" fill="#6a6a6a" fill-opacity="0.6"/>
<circle cx="35.46" cy="207.65" r="0.4" fill="#6a6a6a" fill-opacity="0.6"/>
<circle cx="27.50" cy="193.56" r="0.4" fill="#6a6a6a" fill-opacity="0.6"/>
<circle cx="35.99" cy="194.61" r="0.4" fill="#6a6a6a" fill-opacity="0.6"/>
<circle cx="32.46" cy="191.40" r="0.4" fill="#6a6a6a" fill-opacity="0.6"/>
<circle cx="32.92" cy="182.41" r="0.4" fill="#6a6a6a" fill-opacity="0.6"/>
<circle cx="38.02" cy="182.03" r="0.4" fill="#6a6a6a" fill-opacity="0.6"/>
<circle cx="33.12" cy="192.57" r="0.4" fill="#6a6a6a" fill-opacity="0.6"/>
<circle cx="32.45" cy="187.41" r="0.4" fill="#6a6a6a" fill-opacity="0.6"/>
<circle cx="29.47" cy="194.14" r="0.4" fill="#6a6a6a" fill-opacity="0.6"/>
<circle cx="28.39" cy="179.71" r="0.4" fill="#6a6a6a" fill-opacity="0.6"/>
<circle cx="31.33" cy="195.61" r="0.4" fill="#6a6a6a" fill-opacity="0.6"/>
<circle cx="33.02" cy="203.03" r="0.4" fill="#6a6a6a" fill-opacity="0.6"/>
<circle cx="35.25" cy="193.77" r="0.4" fill="#6a6a6a" fill-opacity="0.6"/>
<circle cx="28.62" cy="207.94" r="0.4" fill="#6a6a6a" fill-opacity="0.6"/>
<circle cx="31.21" cy="191.51" r="0.4" fill="#6a6a6a" fill-opacity="0.6"/>
<circle cx="30.47" cy="193.93" r="0.4" fill="#6a6a6a" fill-opacity="0.6"/>
<circle cx="30.84" cy="200.25" r="0.4" fill="#6a6a6a" fill-opacity="0.6"/>
<ellipse cx="46.80" cy="201.00" rx="1.6" ry="4.2" fill="none" stroke="#c4c4c4" stroke-width="0.45"/>
<ellipse cx="48.80" cy="200.50" rx="1.2" ry="3.6" fill="none" stroke="#c4c4c4" stroke-width="0.45"/>
<circle cx="47.07" cy="201.93" r="0.3" fill="#aaa" fill-opacity="0.5"/>
<circle cx="47.30" cy="207.24" r="0.3" fill="#aaa" fill-opacity="0.5"/>
<circle cx="49.29" cy="206.39" r="0.3" fill="#aaa" fill-opacity="0.5"/>
<circle cx="51.48" cy="198.37" r="0.3" fill="#aaa" fill-opacity="0.5"/>
<circle cx="48.04" cy="207.26" r="0.3" fill="#aaa" fill-opacity="0.5"/>
<circle cx="50.56" cy="196.78" r="0.3" fill="#aaa" fill-opacity="0.5"/>
<circle cx="44.09" cy="200.75" r="0.3" fill="#aaa" fill-opacity="0.5"/>
<circle cx="43.65" cy="198.13" r="0.3" fill="#aaa" fill-opacity="0.5"/>
<circle cx="43.66" cy="203.70" r="0.3" fill="#aaa" fill-opacity="0.5"/>
<circle cx="50.06" cy="206.66" r="0.3" fill="#aaa" fill-opacity="0.5"/>
<circle cx="44.39" cy="204.31" r="0.3" fill="#aaa" fill-opacity="0.5"/>
<circle cx="48.94" cy="196.86" r="0.3" fill="#aaa" fill-opacity="0.5"/>
<circle cx="50.95" cy="207.58" r="0.3" fill="#aaa" fill-opacity="0.5"/>
<circle cx="44.98" cy="207.38" r="0.3" fill="#aaa" fill-opacity="0.5"/>
<circle cx="46.58" cy="201.33" r="0.3" fill="#aaa" fill-opacity="0.5"/>
<circle cx="51.91" cy="205.82" r="0.3" fill="#aaa" fill-opacity="0.5"/>
<circle cx="44.45" cy="200.61" r="0.3" fill="#aaa" fill-opacity="0.5"/>
<circle cx="47.64" cy="199.41" r="0.3" fill="#aaa" fill-opacity="0.5"/>
<circle cx="44.37" cy="179.78" r="0.3" fill="#bbb" fill-opacity="0.5"/>
<circle cx="48.06" cy="175.29" r="0.3" fill="#bbb" fill-opacity="0.5"/>
<circle cx="46.88" cy="181.61" r="0.3" fill="#bbb" fill-opacity="0.5"/>
<circle cx="43.13" cy="179.97" r="0.3" fill="#bbb" fill-opacity="0.5"/>
<circle cx="47.37" cy="182.68" r="0.3" fill="#bbb" fill-opacity="0.5"/>
<circle cx="43.45" cy="189.78" r="0.3" fill="#bbb" fill-opacity="0.5"/>
<circle cx="98.48" cy="180.07" r="0.4" fill="#6a6a6a" fill-opacity="0.6"/>
<circle cx="89.44" cy="185.69" r="0.4" fill="#6a6a6a" fill-opacity="0.6"/>
<circle cx="101.42" cy="185.87" r="0.4" fill="#6a6a6a" fill-opacity="0.6"/>
<circle cx="97.90" cy="180.93" r="0.4" fill="#6a6a6a" fill-opacity="0.6"/>
<circle cx="91.26" cy="205.06" r="0.4" fill="#6a6a6a" fill-opacity="0.6"/>
<circle cx="99.59" cy="185.45" r="0.4" fill="#6a6a6a" fill-opacity="0.6"/>
<circle cx="100.41" cy="196.37" r="0.4" fill="#6a6a6a" fill-opacity="0.6"/>
<circle cx="101.77" cy="200.91" r="0.4" fill="#6a6a6a" fill-opacity="0.6"/>
<circle cx="97.52" cy="200.49" r="0.4" fill="#6a6a6a" fill-opacity="0.6"/>
<circle cx="97.21" cy="191.29" r="0.4" fill="#6a6a6a" fill-opacity="0.6"/>
<circle cx="102.64" cy="198.61" r="0.4" fill="#6a6a6a" fill-opacity="0.6"/>
<circle cx="99.60" cy="204.46" r="0.4" fill="#6a6a6a" fill-opacity="0.6"/>
<circle cx="101.47" cy="178.73" r="0.4" fill="#6a6a6a" fill-opacity="0.6"/>
<circle cx="99.47" cy="206.60" r="0.4" fill="#6a6a6a" fill-opacity="0.6"/>
<circle cx="94.26" cy="195.76" r="0.4" fill="#6a6a6a" fill-opacity="0.6"/>
<circle cx="97.43" cy="208.83" r="0.4" fill="#6a6a6a" fill-opacity="0.6"/>
<circle cx="96.54" cy="194.84" r="0.4" fill="#6a6a6a" fill-opacity="0.6"/>
<circle cx="98.16" cy="184.75" r="0.4" fill="#6a6a6a" fill-opacity="0.6"/>
<circle cx="97.98" cy="178.16" r="0.4" fill="#6a6a6a" fill-opacity="0.6"/>
<circle cx="97.75" cy="183.46" r="0.4" fill="#6a6a6a" fill-opacity="0.6"/>
<circle cx="95.79" cy="202.98" r="0.4" fill="#6a6a6a" fill-opacity="0.6"/>
<circle cx="98.91" cy="186.55" r="0.4" fill="#6a6a6a" fill-opacity="0.6"/>
<circle cx="94.95" cy="188.55" r="0.4" fill="#6a6a6a" fill-opacity="0.6"/>
<circle cx="96.70" cy="177.04" r="0.4" fill="#6a6a6a" fill-opacity="0.6"/>
<circle cx="96.70" cy="202.06" r="0.4" fill="#6a6a6a" fill-opacity="0.6"/>
<circle cx="97.19" cy="195.69" r="0.4" fill="#6a6a6a" fill-opacity="0.6"/>
<circle cx="97.88" cy="209.11" r="0.4" fill="#6a6a6a" fill-opacity="0.6"/>
<circle cx="99.65" cy="180.12" r="0.4" fill="#6a6a6a" fill-opacity="0.6"/>
<circle cx="97.95" cy="193.73" r="0.4" fill="#6a6a6a" fill-opacity="0.6"/>
<circle cx="94.00" cy="205.61" r="0.4" fill="#6a6a6a" fill-opacity="0.6"/>
<circle cx="94.09" cy="200.47" r="0.4" fill="#6a6a6a" fill-opacity="0.6"/>
<circle cx="98.77" cy="210.79" r="0.4" fill="#6a6a6a" fill-opacity="0.6"/>
<circle cx="93.79" cy="201.14" r="0.4" fill="#6a6a6a" fill-opacity="0.6"/>
<circle cx="101.12" cy="198.66" r="0.4" fill="#6a6a6a" fill-opacity="0.6"/>
<circle cx="94.56" cy="178.30" r="0.4" fill="#6a6a6a" fill-opacity="0.6"/>
<circle cx="98.16" cy="180.94" r="0.4" fill="#6a6a6a" fill-opacity="0.6"/>
<circle cx="100.85" cy="185.35" r="0.4" fill="#6a6a6a" fill-opacity="0.6"/>
<circle cx="98.68" cy="182.11" r="0.4" fill="#6a6a6a" fill-opacity="0.6"/>
<circle cx="101.33" cy="206.87" r="0.4" fill="#6a6a6a" fill-opacity="0.6"/>
<circle cx="99.42" cy="199.87" r="0.4" fill="#6a6a6a" fill-opacity="0.6"/>
<circle cx="96.28" cy="186.66" r="0.4" fill="#6a6a6a" fill-opacity="0.6"/>
<circle cx="98.74" cy="192.48" r="0.4" fill="#6a6a6a" fill-opacity="0.6"/>
<circle cx="98.37" cy="185.61" r="0.4" fill="#6a6a6a" fill-opacity="0.6"/>
<circle cx="99.24" cy="210.06" r="0.4" fill="#6a6a6a" fill-opacity="0.6"/>
<circle cx="100.17" cy="184.96" r="0.4" fill="#6a6a6a" fill-opacity="0.6"/>
<circle cx="96.10" cy="210.20" r="0.4" fill="#6a6a6a" fill-opacity="0.6"/>
<circle cx="95.74" cy="176.44" r="0.4" fill="#6a6a6a" fill-opacity="0.6"/>
<circle cx="99.15" cy="189.76" r="0.4" fill="#6a6a6a" fill-opacity="0.6"/>
<circle cx="93.43" cy="183.43" r="0.4" fill="#6a6a6a" fill-opacity="0.6"/>
<circle cx="97.23" cy="194.07" r="0.4" fill="#6a6a6a" fill-opacity="0.6"/>
<circle cx="98.89" cy="179.54" r="0.4" fill="#6a6a6a" fill-opacity="0.6"/>
<circle cx="96.77" cy="190.38" r="0.4" fill="#6a6a6a" fill-opacity="0.6"/>
<circle cx="97.28" cy="187.05" r="0.4" fill="#6a6a6a" fill-opacity="0.6"/>
<circle cx="96.85" cy="184.55" r="0.4" fill="#6a6a6a" fill-opacity="0.6"/>
<circle cx="93.75" cy="202.67" r="0.4" fill="#6a6a6a" fill-opacity="0.6"/>
<circle cx="94.94" cy="199.41" r="0.4" fill="#6a6a6a" fill-opacity="0.6"/>
<circle cx="95.48" cy="190.03" r="0.4" fill="#6a6a6a" fill-opacity="0.6"/>
<circle cx="91.08" cy="187.81" r="0.4" fill="#6a6a6a" fill-opacity="0.6"/>
<circle cx="98.29" cy="201.75" r="0.4" fill="#6a6a6a" fill-opacity="0.6"/>
<circle cx="96.55" cy="198.91" r="0.4" fill="#6a6a6a" fill-opacity="0.6"/>
<circle cx="101.82" cy="207.62" r="0.4" fill="#6a6a6a" fill-opacity="0.6"/>
<circle cx="98.14" cy="198.36" r="0.4" fill="#6a6a6a" fill-opacity="0.6"/>
<circle cx="96.18" cy="181.28" r="0.4" fill="#6a6a6a" fill-opacity="0.6"/>
<circle cx="91.61" cy="194.73" r="0.4" fill="#6a6a6a" fill-opacity="0.6"/>
<circle cx="91.39" cy="204.56" r="0.4" fill="#6a6a6a" fill-opacity="0.6"/>
<circle cx="96.55" cy="205.32" r="0.4" fill="#6a6a6a" fill-opacity="0.6"/>
<circle cx="91.59" cy="200.30" r="0.4" fill="#6a6a6a" fill-opacity="0.6"/>
<circle cx="93.72" cy="200.67" r="0.4" fill="#6a6a6a" fill-opacity="0.6"/>
<circle cx="96.79" cy="181.06" r="0.4" fill="#6a6a6a" fill-opacity="0.6"/>
<circle cx="97.40" cy="189.02" r="0.4" fill="#6a6a6a" fill-opacity="0.6"/>
<circle cx="100.91" cy="195.95" r="0.4" fill="#6a6a6a" fill-opacity="0.6"/>
<circle cx="99.96" cy="198.37" r="0.4" fill="#6a6a6a" fill-opacity="0.6"/>
<circle cx="93.73" cy="193.53" r="0.4" fill="#6a6a6a" fill-opacity="0.6"/>
<circle cx="93.69" cy="176.52" r="0.4" fill="#6a6a6a" fill-opacity="0.6"/>
<circle cx="98.07" cy="194.00" r="0.4" fill="#6a6a6a" fill-opacity="0.6"/>
<circle cx="92.26" cy="195.13" r="0.4" fill="#6a6a6a" fill-opacity="0.6"/>
<circle cx="96.14" cy="202.19" r="0.4" fill="#6a6a6a" fill-opacity="0.6"/>
<circle cx="95.83" cy="185.23" r="0.4" fill="#6a6a6a" fill-opacity="0.6"/>
<circle cx="98.66" cy="201.93" r="0.4" fill="#6a6a6a" fill-opacity="0.6"/>
<circle cx="97.69" cy="183.58" r="0.4" fill="#6a6a6a" fill-opacity="0.6"/>
<circle cx="96.21" cy="193.69" r="0.4" fill="#6a6a6a" fill-opacity="0.6"/>
<circle cx="89.08" cy="189.79" r="0.4" fill="#6a6a6a" fill-opacity="0.6"/>
<circle cx="92.49" cy="203.24" r="0.4" fill="#6a6a6a" fill-opacity="0.6"/>
<circle cx="97.26" cy="197.99" r="0.4" fill="#6a6a6a" fill-opacity="0.6"/>
<circle cx="96.00" cy="181.56" r="0.4" fill="#6a6a6a" fill-opacity="0.6"/>
<circle cx="95.82" cy="185.29" r="0.4" fill="#6a6a6a" fill-opacity="0.6"/>
<circle cx="96.60" cy="196.27" r="0.4" fill="#6a6a6a" fill-opacity="0.6"/>
<circle cx="94.32" cy="176.84" r="0.4" fill="#6a6a6a" fill-opacity="0.6"/>
<circle cx="98.76" cy="199.92" r="0.4" fill="#6a6a6a" fill-opacity="0.6"/>
<circle cx="97.52" cy="200.63" r="0.4" fill="#6a6a6a" fill-opacity="0.6"/>
<circle cx="95.66" cy="194.48" r="0.4" fill="#6a6a6a" fill-opacity="0.6"/>
<circle cx="94.63" cy="192.66" r="0.4" fill="#6a6a6a" fill-opacity="0.6"/>
<circle cx="95.33" cy="207.68" r="0.4" fill="#6a6a6a" fill-opacity="0.6"/>
<circle cx="97.00" cy="183.37" r="0.4" fill="#6a6a6a" fill-opacity="0.6"/>
<circle cx="103.21" cy="177.01" r="0.4" fill="#6a6a6a" fill-opacity="0.6"/>
<circle cx="95.80" cy="192.46" r="0.4" fill="#6a6a6a" fill-opacity="0.6"/>
<circle cx="99.83" cy="192.13" r="0.4" fill="#6a6a6a" fill-opacity="0.6"/>
<circle cx="90.05" cy="185.80" r="0.4" fill="#6a6a6a" fill-opacity="0.6"/>
<circle cx="98.39" cy="183.77" r="0.4" fill="#6a6a6a" fill-opacity="0.6"/>
<circle cx="103.24" cy="196.75" r="0.4" fill="#6a6a6a" fill-opacity="0.6"/>
<circle cx="98.85" cy="209.75" r="0.4" fill="#6a6a6a" fill-opacity="0.6"/>
<circle cx="99.35" cy="181.04" r="0.4" fill="#6a6a6a" fill-opacity="0.6"/>
<circle cx="98.13" cy="207.44" r="0.4" fill="#6a6a6a" fill-opacity="0.6"/>
<circle cx="93.68" cy="201.02" r="0.4" fill="#6a6a6a" fill-opacity="0.6"/>
<circle cx="97.40" cy="193.41" r="0.4" fill="#6a6a6a" fill-opacity="0.6"/>
<circle cx="102.64" cy="177.27" r="0.4" fill="#6a6a6a" fill-opacity="0.6"/>
<circle cx="99.96" cy="192.18" r="0.4" fill="#6a6a6a" fill-opacity="0.6"/>
<circle cx="96.77" cy="186.97" r="0.4" fill="#6a6a6a" fill-opacity="0.6"/>
<circle cx="98.33" cy="187.46" r="0.4" fill="#6a6a6a" fill-opacity="0.6"/>
<circle cx="98.69" cy="205.81" r="0.4" fill="#6a6a6a" fill-opacity="0.6"/>
<circle cx="101.37" cy="205.77" r="0.4" fill="#6a6a6a" fill-opacity="0.6"/>
<circle cx="96.75" cy="180.60" r="0.4" fill="#6a6a6a" fill-opacity="0.6"/>
<circle cx="100.66" cy="207.95" r="0.4" fill="#6a6a6a" fill-opacity="0.6"/>
<circle cx="94.73" cy="186.54" r="0.4" fill="#6a6a6a" fill-opacity="0.6"/>
<circle cx="94.76" cy="211.36" r="0.4" fill="#6a6a6a" fill-opacity="0.6"/>
<circle cx="98.71" cy="197.02" r="0.4" fill="#6a6a6a" fill-opacity="0.6"/>
<circle cx="94.80" cy="186.03" r="0.4" fill="#6a6a6a" fill-opacity="0.6"/>
<circle cx="98.97" cy="178.09" r="0.4" fill="#6a6a6a" fill-opacity="0.6"/>
<circle cx="100.96" cy="186.40" r="0.4" fill="#6a6a6a" fill-opacity="0.6"/>
<circle cx="99.87" cy="209.15" r="0.4" fill="#6a6a6a" fill-opacity="0.6"/>
<circle cx="96.71" cy="194.28" r="0.4" fill="#6a6a6a" fill-opacity="0.6"/>
<circle cx="98.90" cy="183.04" r="0.4" fill="#6a6a6a" fill-opacity="0.6"/>
<circle cx="91.80" cy="207.35" r="0.4" fill="#6a6a6a" fill-opacity="0.6"/>
<circle cx="101.70" cy="204.82" r="0.4" fill="#6a6a6a" fill-opacity="0.6"/>
<circle cx="92.49" cy="209.32" r="0.4" fill="#6a6a6a" fill-opacity="0.6"/>
<circle cx="92.16" cy="195.62" r="0.4" fill="#6a6a6a" fill-opacity="0.6"/>
<circle cx="96.53" cy="202.03" r="0.4" fill="#6a6a6a" fill-opacity="0.6"/>
<circle cx="95.82" cy="192.18" r="0.4" fill="#6a6a6a" fill-opacity="0.6"/>
<circle cx="96.77" cy="186.42" r="0.4" fill="#6a6a6a" fill-opacity="0.6"/>
<circle cx="92.67" cy="178.11" r="0.4" fill="#6a6a6a" fill-opacity="0.6"/>
<circle cx="98.01" cy="192.93" r="0.4" fill="#6a6a6a" fill-opacity="0.6"/>
<circle cx="96.05" cy="188.43" r="0.4" fill="#6a6a6a" fill-opacity="0.6"/>
<circle cx="95.34" cy="210.57" r="0.4" fill="#6a6a6a" fill-opacity="0.6"/>
<circle cx="101.08" cy="185.51" r="0.4" fill="#6a6a6a" fill-opacity="0.6"/>
<circle cx="95.38" cy="195.91" r="0.4" fill="#6a6a6a" fill-opacity="0.6"/>
<circle cx="94.73" cy="190.20" r="0.4" fill="#6a6a6a" fill-opacity="0.6"/>
<circle cx="97.53" cy="183.68" r="0.4" fill="#6a6a6a" fill-opacity="0.6"/>
<circle cx="98.14" cy="208.11" r="0.4" fill="#6a6a6a" fill-opacity="0.6"/>
<circle cx="94.73" cy="208.12" r="0.4" fill="#6a6a6a" fill-opacity="0.6"/>
<circle cx="96.74" cy="211.28" r="0.4" fill="#6a6a6a" fill-opacity="0.6"/>
<ellipse cx="110.50" cy="201.40" rx="1.6" ry="4.2" fill="none" stroke="#c4c4c4" stroke-width="0.45"/>
<ellipse cx="112.50" cy="200.90" rx="1.2" ry="3.6" fill="none" stroke="#c4c4c4" stroke-width="0.45"/>
<circle cx="110.75" cy="197.21" r="0.3" fill="#aaa" fill-opacity="0.5"/>
<circle cx="108.43" cy="196.58" r="0.3" fill="#aaa" fill-opacity="0.5"/>
<circle cx="109.78" cy="196.58" r="0.3" fill="#aaa" fill-opacity="0.5"/>
<circle cx="108.85" cy="198.76" r="0.3" fill="#aaa" fill-opacity="0.5"/>
<circle cx="111.83" cy="206.93" r="0.3" fill="#aaa" fill-opacity="0.5"/>
<circle cx="113.45" cy="200.77" r="0.3" fill="#aaa" fill-opacity="0.5"/>
<circle cx="110.42" cy="202.21" r="0.3" fill="#aaa" fill-opacity="0.5"/>
<circle cx="110.09" cy="199.80" r="0.3" fill="#aaa" fill-opacity="0.5"/>
<circle cx="107.26" cy="199.01" r="0.3" fill="#aaa" fill-opacity="0.5"/>
<circle cx="115.41" cy="197.04" r="0.3" fill="#aaa" fill-opacity="0.5"/>
<circle cx="111.23" cy="203.59" r="0.3" fill="#aaa" fill-opacity="0.5"/>
<circle cx="114.47" cy="198.21" r="0.3" fill="#aaa" fill-opacity="0.5"/>
<circle cx="109.14" cy="198.63" r="0.3" fill="#aaa" fill-opacity="0.5"/>
<circle cx="110.30" cy="201.20" r="0.3" fill="#aaa" fill-opacity="0.5"/>
<circle cx="115.29" cy="206.43" r="0.3" fill="#aaa" fill-opacity="0.5"/>
<circle cx="114.56" cy="195.68" r="0.3" fill="#aaa" fill-opacity="0.5"/>
<circle cx="106.99" cy="204.62" r="0.3" fill="#aaa" fill-opacity="0.5"/>
<circle cx="114.76" cy="201.55" r="0.3" fill="#aaa" fill-opacity="0.5"/>
<circle cx="110.81" cy="175.40" r="0.3" fill="#bbb" fill-opacity="0.5"/>
<circle cx="109.44" cy="189.30" r="0.3" fill="#bbb" fill-opacity="0.5"/>
<circle cx="112.48" cy="188.23" r="0.3" fill="#bbb" fill-opacity="0.5"/>
<circle cx="113.51" cy="179.13" r="0.3" fill="#bbb" fill-opacity="0.5"/>
<circle cx="107.46" cy="177.72" r="0.3" fill="#bbb" fill-opacity="0.5"/>
<circle cx="110.36" cy="185.63" r="0.3" fill="#bbb" fill-opacity="0.5"/>
<path d="M157.4,175.8 C159.6,175.6 161.4,177.6 161.3,180.2 C161.2,182.6 159.8,184.2 158.2,184.8 C156.2,185.4 154.0,183.8 153.7,181.0 C153.5,178.2 155.2,176.0 157.4,175.8 Z" stroke="#7a7a7a" stroke-width="0.75" fill="none" />
<path d="M157.4,177.6 C159.0,177.6 159.9,179.0 159.7,180.6 C159.5,182.2 158.3,183.2 157.3,183.2 C156.1,183.2 155.3,182.0 155.4,180.4 C155.5,178.8 156.3,177.6 157.4,177.6 Z" stroke="#999" stroke-width="0.55" fill="none" />
<path d="M156.8,184.8 C157.6,187.4 158.2,190.2 158.4,193.0" stroke="#9a9a9a" stroke-width="0.6" fill="none" />
<path d="M159.0,184.6 C159.6,187.0 159.8,189.6 159.6,192.6" stroke="#b0b0b0" stroke-width="0.5" fill="none" />
<path d="M158.6,194.6 C160.4,194.6 161.8,197.6 161.8,201.0 C161.8,204.2 160.6,206.8 159.0,206.8 C157.4,206.8 156.4,204.2 156.4,201.0 C156.4,197.6 157.0,194.6 158.6,194.6 Z" stroke="#a8a8a8" stroke-width="0.55" fill="none" />
<path d="M158.8,197.2 C159.8,197.4 160.4,199.2 160.4,201.2 C160.4,203.2 159.8,204.6 159.0,204.6 C158.2,204.6 157.6,203.2 157.6,201.2 C157.6,199.2 158.0,197.2 158.8,197.2 Z" stroke="#b4b4b4" stroke-width="0.5" fill="none" />
<path d="M157.4,192.8 C157.2,194.2 157.0,195.4 156.8,196.6" stroke="#b0b0b0" stroke-width="0.5" fill="none" />
</svg>
</body></html>
